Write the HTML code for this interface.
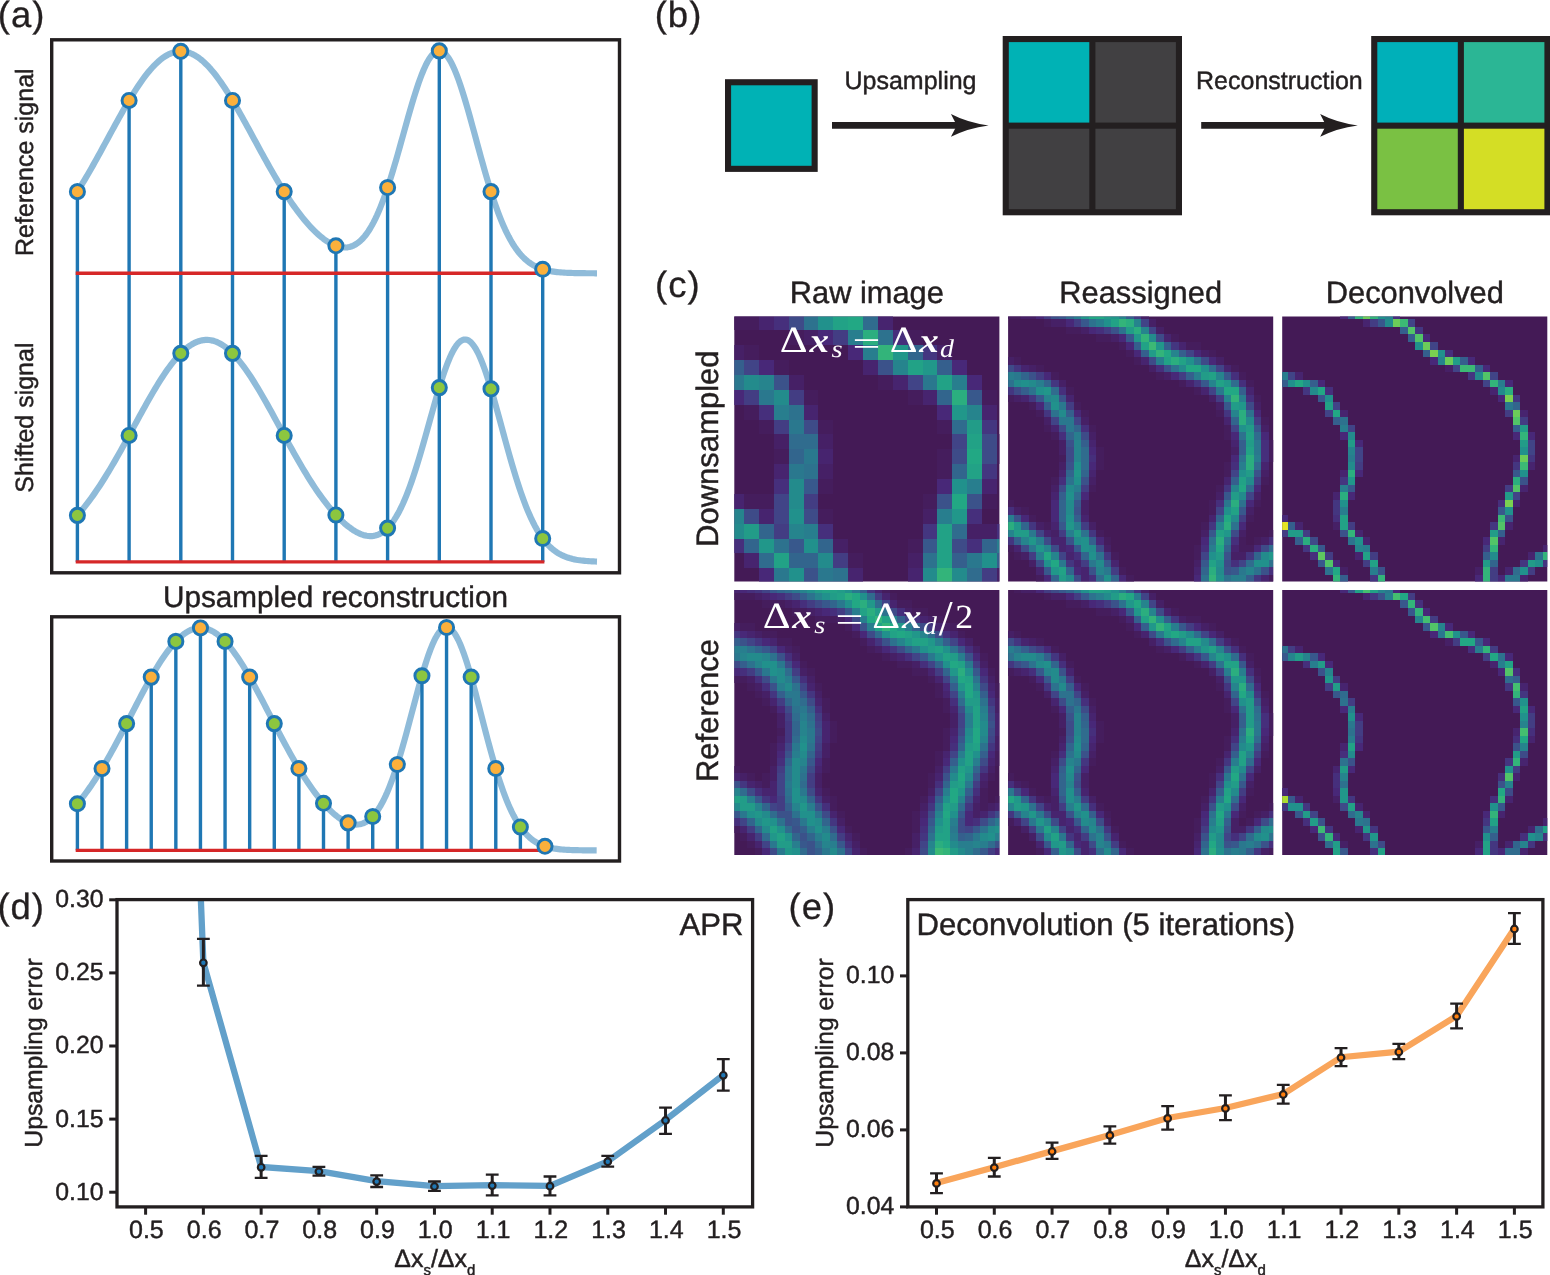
<!DOCTYPE html>
<html><head><meta charset="utf-8"><title>Figure</title>
<style>
html,body{margin:0;padding:0;background:#fff;}
body{width:1550px;height:1275px;overflow:hidden;}
svg{display:block;}
text{font-family:"Liberation Sans",Arial,Helvetica,sans-serif;stroke:#231f20;stroke-width:0.45px;text-rendering:geometricPrecision;}
</style></head><body>
<svg width="1550" height="1275" viewBox="0 0 1550 1275">
<rect width="1550" height="1275" fill="#fff"/>
<rect x="51.7" y="39.8" width="567.8" height="533.0" fill="none" stroke="#231f20" stroke-width="3.4"/>
<rect x="51.7" y="616.8" width="567.8" height="244.2" fill="none" stroke="#231f20" stroke-width="3.4"/>
<path d="M77.40,191.63 L79.13,188.87 L80.86,186.07 L82.60,183.22 L84.33,180.34 L86.06,177.41 L87.79,174.45 L89.52,171.46 L91.26,168.43 L92.99,165.37 L94.72,162.29 L96.45,159.18 L98.18,156.05 L99.92,152.91 L101.65,149.74 L103.38,146.57 L105.11,143.39 L106.84,140.20 L108.58,137.01 L110.31,133.82 L112.04,130.64 L113.77,127.47 L115.50,124.31 L117.23,121.17 L118.97,118.04 L120.70,114.95 L122.43,111.88 L124.16,108.84 L125.89,105.84 L127.63,102.89 L129.36,99.97 L131.09,97.11 L132.82,94.30 L134.55,91.55 L136.29,88.86 L138.02,86.23 L139.75,83.67 L141.48,81.19 L143.21,78.78 L144.95,76.45 L146.68,74.21 L148.41,72.05 L150.14,69.98 L151.87,68.01 L153.61,66.14 L155.34,64.36 L157.07,62.69 L158.80,61.12 L160.53,59.67 L162.27,58.32 L164.00,57.09 L165.73,55.97 L167.46,54.96 L169.19,54.08 L170.93,53.32 L172.66,52.67 L174.39,52.15 L176.12,51.75 L177.85,51.48 L179.59,51.33 L181.32,51.31 L183.05,51.40 L184.78,51.63 L186.51,51.98 L188.24,52.45 L189.98,53.04 L191.71,53.76 L193.44,54.59 L195.17,55.55 L196.90,56.62 L198.64,57.81 L200.37,59.11 L202.10,60.52 L203.83,62.05 L205.56,63.68 L207.30,65.41 L209.03,67.24 L210.76,69.18 L212.49,71.21 L214.22,73.33 L215.96,75.54 L217.69,77.83 L219.42,80.21 L221.15,82.66 L222.88,85.19 L224.62,87.79 L226.35,90.46 L228.08,93.18 L229.81,95.97 L231.54,98.81 L233.28,101.71 L235.01,104.65 L236.74,107.63 L238.47,110.65 L240.20,113.71 L241.94,116.79 L243.67,119.91 L245.40,123.04 L247.13,126.19 L248.86,129.36 L250.60,132.54 L252.33,135.73 L254.06,138.91 L255.79,142.10 L257.52,145.29 L259.25,148.47 L260.99,151.63 L262.72,154.79 L264.45,157.92 L266.18,161.04 L267.91,164.13 L269.65,167.20 L271.38,170.24 L273.11,173.24 L274.84,176.22 L276.57,179.15 L278.31,182.05 L280.04,184.91 L281.77,187.73 L283.50,190.50 L285.23,193.23 L286.97,195.90 L288.70,198.53 L290.43,201.11 L292.16,203.63 L293.89,206.10 L295.63,208.52 L297.36,210.88 L299.09,213.18 L300.82,215.43 L302.55,217.61 L304.29,219.73 L306.02,221.79 L307.75,223.79 L309.48,225.72 L311.21,227.58 L312.95,229.38 L314.68,231.11 L316.41,232.77 L318.14,234.35 L319.87,235.86 L321.60,237.30 L323.34,238.65 L325.07,239.93 L326.80,241.12 L328.53,242.22 L330.26,243.23 L332.00,244.14 L333.73,244.96 L335.46,245.67 L337.19,246.28 L338.92,246.76 L340.66,247.14 L342.39,247.38 L344.12,247.49 L345.85,247.47 L347.58,247.30 L349.32,246.98 L351.05,246.50 L352.78,245.85 L354.51,245.02 L356.24,244.02 L357.98,242.82 L359.71,241.43 L361.44,239.83 L363.17,238.01 L364.90,235.98 L366.64,233.73 L368.37,231.24 L370.10,228.52 L371.83,225.56 L373.56,222.35 L375.30,218.90 L377.03,215.21 L378.76,211.28 L380.49,207.10 L382.22,202.69 L383.96,198.05 L385.69,193.18 L387.42,188.11 L389.15,182.83 L390.88,177.37 L392.61,171.73 L394.35,165.95 L396.08,160.03 L397.81,154.00 L399.54,147.88 L401.27,141.70 L403.01,135.49 L404.74,129.27 L406.47,123.07 L408.20,116.93 L409.93,110.88 L411.67,104.95 L413.40,99.17 L415.13,93.58 L416.86,88.20 L418.59,83.08 L420.33,78.24 L422.06,73.71 L423.79,69.52 L425.52,65.70 L427.25,62.27 L428.99,59.26 L430.72,56.69 L432.45,54.57 L434.18,52.92 L435.91,51.75 L437.65,51.06 L439.38,50.87 L441.11,51.18 L442.84,51.98 L444.57,53.27 L446.31,55.03 L448.04,57.27 L449.77,59.96 L451.50,63.09 L453.23,66.64 L454.97,70.58 L456.70,74.89 L458.43,79.54 L460.16,84.51 L461.89,89.76 L463.62,95.26 L465.36,100.99 L467.09,106.90 L468.82,112.97 L470.55,119.17 L472.28,125.45 L474.02,131.80 L475.75,138.18 L477.48,144.57 L479.21,150.92 L480.94,157.22 L482.68,163.45 L484.41,169.57 L486.14,175.57 L487.87,181.43 L489.60,187.13 L491.34,192.66 L493.07,198.01 L494.80,203.15 L496.53,208.10 L498.26,212.82 L500.00,217.34 L501.73,221.63 L503.46,225.70 L505.19,229.55 L506.92,233.17 L508.66,236.58 L510.39,239.77 L512.12,242.76 L513.85,245.54 L515.58,248.13 L517.32,250.52 L519.05,252.73 L520.78,254.77 L522.51,256.65 L524.24,258.37 L525.98,259.94 L527.71,261.37 L529.44,262.68 L531.17,263.86 L532.90,264.93 L534.63,265.89 L536.37,266.76 L538.10,267.54 L539.83,268.24 L541.56,268.86 L543.29,269.42 L545.03,269.91 L546.76,270.35 L548.49,270.73 L550.22,271.07 L551.95,271.37 L553.69,271.64 L555.42,271.87 L557.15,272.07 L558.88,272.25 L560.61,272.40 L562.35,272.53 L564.08,272.64 L565.81,272.74 L567.54,272.83 L569.27,272.90 L571.01,272.96 L572.74,273.02 L574.47,273.06 L576.20,273.10 L577.93,273.13 L579.67,273.16 L581.40,273.18 L583.13,273.20 L584.86,273.22 L586.59,273.23 L588.33,273.25 L590.06,273.25 L591.79,273.26 L593.52,273.27 L595.25,273.28 L596.99,273.28" fill="none" stroke="#8fbbd9" stroke-width="6.2" stroke-linejoin="round"/>
<path d="M77.40,515.37 L79.13,513.39 L80.86,511.36 L82.60,509.27 L84.33,507.13 L86.06,504.93 L87.79,502.68 L89.52,500.37 L91.26,498.01 L92.99,495.59 L94.72,493.12 L96.45,490.60 L98.18,488.03 L99.92,485.41 L101.65,482.74 L103.38,480.03 L105.11,477.26 L106.84,474.46 L108.58,471.61 L110.31,468.72 L112.04,465.79 L113.77,462.83 L115.50,459.83 L117.23,456.80 L118.97,453.74 L120.70,450.66 L122.43,447.55 L124.16,444.42 L125.89,441.27 L127.63,438.11 L129.36,434.93 L131.09,431.75 L132.82,428.56 L134.55,425.37 L136.29,422.19 L138.02,419.00 L139.75,415.83 L141.48,412.67 L143.21,409.53 L144.95,406.41 L146.68,403.32 L148.41,400.25 L150.14,397.22 L151.87,394.22 L153.61,391.27 L155.34,388.36 L157.07,385.50 L158.80,382.69 L160.53,379.94 L162.27,377.26 L164.00,374.64 L165.73,372.08 L167.46,369.60 L169.19,367.20 L170.93,364.88 L172.66,362.64 L174.39,360.49 L176.12,358.43 L177.85,356.47 L179.59,354.60 L181.32,352.83 L183.05,351.17 L184.78,349.61 L186.51,348.16 L188.24,346.82 L189.98,345.60 L191.71,344.49 L193.44,343.49 L195.17,342.62 L196.90,341.86 L198.64,341.23 L200.37,340.72 L202.10,340.33 L203.83,340.06 L205.56,339.92 L207.30,339.91 L209.03,340.02 L210.76,340.25 L212.49,340.61 L214.22,341.09 L215.96,341.69 L217.69,342.42 L219.42,343.26 L221.15,344.22 L222.88,345.31 L224.62,346.50 L226.35,347.81 L228.08,349.23 L229.81,350.76 L231.54,352.40 L233.28,354.14 L235.01,355.98 L236.74,357.93 L238.47,359.96 L240.20,362.09 L241.94,364.30 L243.67,366.60 L245.40,368.99 L247.13,371.45 L248.86,373.98 L250.60,376.59 L252.33,379.26 L254.06,381.99 L255.79,384.78 L257.52,387.63 L259.25,390.53 L260.99,393.47 L262.72,396.45 L264.45,399.48 L266.18,402.54 L267.91,405.62 L269.65,408.74 L271.38,411.87 L273.11,415.03 L274.84,418.20 L276.57,421.38 L278.31,424.56 L280.04,427.75 L281.77,430.94 L283.50,434.13 L285.23,437.30 L286.97,440.47 L288.70,443.62 L290.43,446.75 L292.16,449.87 L293.89,452.96 L295.63,456.02 L297.36,459.06 L299.09,462.07 L300.82,465.04 L302.55,467.97 L304.29,470.87 L306.02,473.72 L307.75,476.54 L309.48,479.30 L311.21,482.03 L312.95,484.70 L314.68,487.33 L316.41,489.90 L318.14,492.42 L319.87,494.89 L321.60,497.30 L323.34,499.65 L325.07,501.95 L326.80,504.19 L328.53,506.37 L330.26,508.49 L332.00,510.54 L333.73,512.53 L335.46,514.46 L337.19,516.32 L338.92,518.11 L340.66,519.84 L342.39,521.49 L344.12,523.07 L345.85,524.57 L347.58,526.00 L349.32,527.35 L351.05,528.62 L352.78,529.80 L354.51,530.90 L356.24,531.90 L357.98,532.81 L359.71,533.62 L361.44,534.32 L363.17,534.92 L364.90,535.40 L366.64,535.76 L368.37,535.99 L370.10,536.10 L371.83,536.06 L373.56,535.88 L375.30,535.55 L377.03,535.05 L378.76,534.39 L380.49,533.55 L382.22,532.53 L383.96,531.32 L385.69,529.91 L387.42,528.30 L389.15,526.47 L390.88,524.42 L392.61,522.15 L394.35,519.65 L396.08,516.90 L397.81,513.92 L399.54,510.70 L401.27,507.24 L403.01,503.53 L404.74,499.57 L406.47,495.38 L408.20,490.95 L409.93,486.29 L411.67,481.41 L413.40,476.32 L415.13,471.03 L416.86,465.55 L418.59,459.91 L420.33,454.11 L422.06,448.18 L423.79,442.14 L425.52,436.02 L427.25,429.84 L428.99,423.62 L430.72,417.40 L432.45,411.21 L434.18,405.08 L435.91,399.03 L437.65,393.11 L439.38,387.35 L441.11,381.77 L442.84,376.41 L444.57,371.31 L446.31,366.49 L448.04,361.98 L449.77,357.82 L451.50,354.03 L453.23,350.63 L454.97,347.66 L456.70,345.12 L458.43,343.03 L460.16,341.41 L461.89,340.28 L463.62,339.63 L465.36,339.48 L467.09,339.82 L468.82,340.66 L470.55,341.98 L472.28,343.79 L474.02,346.06 L475.75,348.78 L477.48,351.94 L479.21,355.52 L480.94,359.49 L482.68,363.82 L484.41,368.50 L486.14,373.49 L487.87,378.76 L489.60,384.28 L491.34,390.02 L493.07,395.95 L494.80,402.03 L496.53,408.23 L498.26,414.53 L500.00,420.88 L501.73,427.26 L503.46,433.64 L505.19,439.99 L506.92,446.29 L508.66,452.51 L510.39,458.62 L512.12,464.61 L513.85,470.46 L515.58,476.15 L517.32,481.67 L519.05,487.00 L520.78,492.13 L522.51,497.06 L524.24,501.77 L525.98,506.26 L527.71,510.54 L529.44,514.59 L531.17,518.42 L532.90,522.03 L534.63,525.43 L536.37,528.60 L538.10,531.57 L539.83,534.34 L541.56,536.91 L543.29,539.29 L545.03,541.49 L546.76,543.52 L548.49,545.38 L550.22,547.09 L551.95,548.65 L553.69,550.07 L555.42,551.37 L557.15,552.54 L558.88,553.60 L560.61,554.56 L562.35,555.42 L564.08,556.19 L565.81,556.89 L567.54,557.50 L569.27,558.06 L571.01,558.54 L572.74,558.98 L574.47,559.36 L576.20,559.70 L577.93,560.00 L579.67,560.26 L581.40,560.48 L583.13,560.68 L584.86,560.86 L586.59,561.01 L588.33,561.14 L590.06,561.25 L591.79,561.35 L593.52,561.43 L595.25,561.51 L596.99,561.57" fill="none" stroke="#8fbbd9" stroke-width="6.2" stroke-linejoin="round"/>
<line x1="77.40" y1="191.63" x2="77.40" y2="561.90" stroke="#1f77b4" stroke-width="3.4"/>
<line x1="129.10" y1="100.41" x2="129.10" y2="561.90" stroke="#1f77b4" stroke-width="3.4"/>
<line x1="180.80" y1="51.30" x2="180.80" y2="561.90" stroke="#1f77b4" stroke-width="3.4"/>
<line x1="232.50" y1="100.41" x2="232.50" y2="561.90" stroke="#1f77b4" stroke-width="3.4"/>
<line x1="284.20" y1="191.60" x2="284.20" y2="561.90" stroke="#1f77b4" stroke-width="3.4"/>
<line x1="335.90" y1="245.84" x2="335.90" y2="561.90" stroke="#1f77b4" stroke-width="3.4"/>
<line x1="387.60" y1="187.56" x2="387.60" y2="561.90" stroke="#1f77b4" stroke-width="3.4"/>
<line x1="439.30" y1="50.87" x2="439.30" y2="561.90" stroke="#1f77b4" stroke-width="3.4"/>
<line x1="491.00" y1="191.60" x2="491.00" y2="561.90" stroke="#1f77b4" stroke-width="3.4"/>
<line x1="542.70" y1="269.23" x2="542.70" y2="561.90" stroke="#1f77b4" stroke-width="3.4"/>
<line x1="75.70" y1="273.3" x2="544.40" y2="273.3" stroke="#d62728" stroke-width="3.4"/>
<line x1="75.70" y1="561.9" x2="544.40" y2="561.9" stroke="#d62728" stroke-width="3.4"/>
<circle cx="77.40" cy="191.63" r="7.05" fill="#fbb03b" stroke="#1f77b4" stroke-width="2.95"/>
<circle cx="129.10" cy="100.41" r="7.05" fill="#fbb03b" stroke="#1f77b4" stroke-width="2.95"/>
<circle cx="180.80" cy="51.30" r="7.05" fill="#fbb03b" stroke="#1f77b4" stroke-width="2.95"/>
<circle cx="232.50" cy="100.41" r="7.05" fill="#fbb03b" stroke="#1f77b4" stroke-width="2.95"/>
<circle cx="284.20" cy="191.60" r="7.05" fill="#fbb03b" stroke="#1f77b4" stroke-width="2.95"/>
<circle cx="335.90" cy="245.84" r="7.05" fill="#fbb03b" stroke="#1f77b4" stroke-width="2.95"/>
<circle cx="387.60" cy="187.56" r="7.05" fill="#fbb03b" stroke="#1f77b4" stroke-width="2.95"/>
<circle cx="439.30" cy="50.87" r="7.05" fill="#fbb03b" stroke="#1f77b4" stroke-width="2.95"/>
<circle cx="491.00" cy="191.60" r="7.05" fill="#fbb03b" stroke="#1f77b4" stroke-width="2.95"/>
<circle cx="542.70" cy="269.23" r="7.05" fill="#fbb03b" stroke="#1f77b4" stroke-width="2.95"/>
<circle cx="77.40" cy="515.37" r="7.05" fill="#8cc63f" stroke="#1f77b4" stroke-width="2.95"/>
<circle cx="129.10" cy="435.41" r="7.05" fill="#8cc63f" stroke="#1f77b4" stroke-width="2.95"/>
<circle cx="180.80" cy="353.35" r="7.05" fill="#8cc63f" stroke="#1f77b4" stroke-width="2.95"/>
<circle cx="232.50" cy="353.35" r="7.05" fill="#8cc63f" stroke="#1f77b4" stroke-width="2.95"/>
<circle cx="284.20" cy="435.41" r="7.05" fill="#8cc63f" stroke="#1f77b4" stroke-width="2.95"/>
<circle cx="335.90" cy="514.94" r="7.05" fill="#8cc63f" stroke="#1f77b4" stroke-width="2.95"/>
<circle cx="387.60" cy="528.12" r="7.05" fill="#8cc63f" stroke="#1f77b4" stroke-width="2.95"/>
<circle cx="439.30" cy="387.60" r="7.05" fill="#8cc63f" stroke="#1f77b4" stroke-width="2.95"/>
<circle cx="491.00" cy="388.89" r="7.05" fill="#8cc63f" stroke="#1f77b4" stroke-width="2.95"/>
<circle cx="542.70" cy="538.50" r="7.05" fill="#8cc63f" stroke="#1f77b4" stroke-width="2.95"/>
<path d="M77.40,803.76 L79.13,801.68 L80.86,799.54 L82.59,797.33 L84.32,795.07 L86.05,792.74 L87.79,790.36 L89.52,787.91 L91.25,785.41 L92.98,782.84 L94.71,780.22 L96.44,777.54 L98.17,774.80 L99.90,772.01 L101.63,769.17 L103.36,766.28 L105.09,763.34 L106.83,760.35 L108.56,757.32 L110.29,754.24 L112.02,751.12 L113.75,747.97 L115.48,744.78 L117.21,741.56 L118.94,738.31 L120.67,735.03 L122.40,731.73 L124.13,728.41 L125.87,725.08 L127.60,721.74 L129.33,718.38 L131.06,715.03 L132.79,711.67 L134.52,708.32 L136.25,704.98 L137.98,701.66 L139.71,698.35 L141.44,695.06 L143.17,691.80 L144.91,688.57 L146.64,685.38 L148.37,682.23 L150.10,679.12 L151.83,676.07 L153.56,673.07 L155.29,670.13 L157.02,667.25 L158.75,664.45 L160.48,661.71 L162.21,659.06 L163.95,656.49 L165.68,654.00 L167.41,651.61 L169.14,649.31 L170.87,647.11 L172.60,645.02 L174.33,643.03 L176.06,641.15 L177.79,639.38 L179.52,637.73 L181.25,636.20 L182.99,634.79 L184.72,633.51 L186.45,632.36 L188.18,631.33 L189.91,630.44 L191.64,629.68 L193.37,629.05 L195.10,628.56 L196.83,628.20 L198.56,627.98 L200.29,627.90 L202.03,627.96 L203.76,628.15 L205.49,628.48 L207.22,628.95 L208.95,629.55 L210.68,630.29 L212.41,631.16 L214.14,632.16 L215.87,633.29 L217.60,634.55 L219.33,635.94 L221.06,637.45 L222.80,639.07 L224.53,640.82 L226.26,642.68 L227.99,644.65 L229.72,646.73 L231.45,648.91 L233.18,651.19 L234.91,653.56 L236.64,656.03 L238.37,658.59 L240.10,661.23 L241.84,663.95 L243.57,666.74 L245.30,669.60 L247.03,672.53 L248.76,675.52 L250.49,678.57 L252.22,681.66 L253.95,684.81 L255.68,687.99 L257.41,691.21 L259.14,694.47 L260.88,697.75 L262.61,701.06 L264.34,704.38 L266.07,707.72 L267.80,711.07 L269.53,714.42 L271.26,717.78 L272.99,721.13 L274.72,724.48 L276.45,727.81 L278.18,731.13 L279.92,734.43 L281.65,737.71 L283.38,740.97 L285.11,744.19 L286.84,747.39 L288.57,750.55 L290.30,753.67 L292.03,756.75 L293.76,759.79 L295.49,762.79 L297.22,765.73 L298.96,768.63 L300.69,771.47 L302.42,774.26 L304.15,777.00 L305.88,779.68 L307.61,782.30 L309.34,784.85 L311.07,787.35 L312.80,789.78 L314.53,792.15 L316.26,794.45 L318.00,796.69 L319.73,798.86 L321.46,800.95 L323.19,802.98 L324.92,804.93 L326.65,806.80 L328.38,808.60 L330.11,810.32 L331.84,811.96 L333.57,813.52 L335.30,814.99 L337.04,816.37 L338.77,817.66 L340.50,818.86 L342.23,819.95 L343.96,820.95 L345.69,821.83 L347.42,822.60 L349.15,823.25 L350.88,823.78 L352.61,824.17 L354.34,824.43 L356.08,824.54 L357.81,824.50 L359.54,824.29 L361.27,823.92 L363.00,823.37 L364.73,822.63 L366.46,821.70 L368.19,820.56 L369.92,819.20 L371.65,817.63 L373.38,815.82 L375.12,813.78 L376.85,811.48 L378.58,808.94 L380.31,806.13 L382.04,803.07 L383.77,799.73 L385.50,796.13 L387.23,792.26 L388.96,788.11 L390.69,783.71 L392.42,779.04 L394.16,774.12 L395.89,768.96 L397.62,763.56 L399.35,757.95 L401.08,752.14 L402.81,746.14 L404.54,739.99 L406.27,733.70 L408.00,727.30 L409.73,720.82 L411.46,714.29 L413.20,707.75 L414.93,701.22 L416.66,694.75 L418.39,688.36 L420.12,682.11 L421.85,676.02 L423.58,670.14 L425.31,664.49 L427.04,659.13 L428.77,654.08 L430.50,649.39 L432.24,645.08 L433.97,641.18 L435.70,637.72 L437.43,634.74 L439.16,632.24 L440.89,630.25 L442.62,628.79 L444.35,627.86 L446.08,627.48 L447.81,627.64 L449.54,628.35 L451.28,629.60 L453.01,631.39 L454.74,633.69 L456.47,636.50 L458.20,639.79 L459.93,643.53 L461.66,647.72 L463.39,652.31 L465.12,657.27 L466.85,662.57 L468.58,668.17 L470.32,674.05 L472.05,680.15 L473.78,686.45 L475.51,692.91 L477.24,699.48 L478.97,706.14 L480.70,712.85 L482.43,719.56 L484.16,726.26 L485.89,732.90 L487.62,739.47 L489.35,745.92 L491.09,752.24 L492.82,758.41 L494.55,764.40 L496.28,770.20 L498.01,775.80 L499.74,781.17 L501.47,786.32 L503.20,791.23 L504.93,795.90 L506.66,800.32 L508.39,804.50 L510.13,808.44 L511.86,812.13 L513.59,815.58 L515.32,818.80 L517.05,821.79 L518.78,824.57 L520.51,827.13 L522.24,829.49 L523.97,831.66 L525.70,833.64 L527.43,835.45 L529.17,837.10 L530.90,838.60 L532.63,839.95 L534.36,841.17 L536.09,842.27 L537.82,843.25 L539.55,844.14 L541.28,844.92 L543.01,845.62 L544.74,846.24 L546.47,846.79 L548.21,847.27 L549.94,847.70 L551.67,848.07 L553.40,848.40 L555.13,848.69 L556.86,848.93 L558.59,849.15 L560.32,849.34 L562.05,849.50 L563.78,849.63 L565.51,849.75 L567.25,849.86 L568.98,849.94 L570.71,850.02 L572.44,850.08 L574.17,850.13 L575.90,850.18 L577.63,850.21 L579.36,850.25 L581.09,850.27 L582.82,850.30 L584.55,850.31 L586.29,850.33 L588.02,850.34 L589.75,850.35 L591.48,850.36 L593.21,850.37 L594.94,850.37 L596.67,850.38" fill="none" stroke="#8fbbd9" stroke-width="6.2" stroke-linejoin="round"/>
<line x1="77.40" y1="803.76" x2="77.40" y2="850.40" stroke="#1f77b4" stroke-width="3.4"/>
<line x1="102.01" y1="768.55" x2="102.01" y2="850.40" stroke="#1f77b4" stroke-width="3.4"/>
<line x1="126.62" y1="723.62" x2="126.62" y2="850.40" stroke="#1f77b4" stroke-width="3.4"/>
<line x1="151.23" y1="677.12" x2="151.23" y2="850.40" stroke="#1f77b4" stroke-width="3.4"/>
<line x1="175.84" y1="641.38" x2="175.84" y2="850.40" stroke="#1f77b4" stroke-width="3.4"/>
<line x1="200.45" y1="627.90" x2="200.45" y2="850.40" stroke="#1f77b4" stroke-width="3.4"/>
<line x1="225.06" y1="641.38" x2="225.06" y2="850.40" stroke="#1f77b4" stroke-width="3.4"/>
<line x1="249.67" y1="677.12" x2="249.67" y2="850.40" stroke="#1f77b4" stroke-width="3.4"/>
<line x1="274.28" y1="723.62" x2="274.28" y2="850.40" stroke="#1f77b4" stroke-width="3.4"/>
<line x1="298.89" y1="768.52" x2="298.89" y2="850.40" stroke="#1f77b4" stroke-width="3.4"/>
<line x1="323.50" y1="803.33" x2="323.50" y2="850.40" stroke="#1f77b4" stroke-width="3.4"/>
<line x1="348.11" y1="822.87" x2="348.11" y2="850.40" stroke="#1f77b4" stroke-width="3.4"/>
<line x1="372.72" y1="816.54" x2="372.72" y2="850.40" stroke="#1f77b4" stroke-width="3.4"/>
<line x1="397.33" y1="764.47" x2="397.33" y2="850.40" stroke="#1f77b4" stroke-width="3.4"/>
<line x1="421.94" y1="675.71" x2="421.94" y2="850.40" stroke="#1f77b4" stroke-width="3.4"/>
<line x1="446.55" y1="627.47" x2="446.55" y2="850.40" stroke="#1f77b4" stroke-width="3.4"/>
<line x1="471.16" y1="677.00" x2="471.16" y2="850.40" stroke="#1f77b4" stroke-width="3.4"/>
<line x1="495.77" y1="768.52" x2="495.77" y2="850.40" stroke="#1f77b4" stroke-width="3.4"/>
<line x1="520.38" y1="826.94" x2="520.38" y2="850.40" stroke="#1f77b4" stroke-width="3.4"/>
<line x1="544.99" y1="846.32" x2="544.99" y2="850.40" stroke="#1f77b4" stroke-width="3.4"/>
<line x1="75.70" y1="850.4" x2="546.69" y2="850.4" stroke="#d62728" stroke-width="3.4"/>
<circle cx="77.40" cy="803.76" r="7.05" fill="#8cc63f" stroke="#1f77b4" stroke-width="2.95"/>
<circle cx="102.01" cy="768.55" r="7.05" fill="#fbb03b" stroke="#1f77b4" stroke-width="2.95"/>
<circle cx="126.62" cy="723.62" r="7.05" fill="#8cc63f" stroke="#1f77b4" stroke-width="2.95"/>
<circle cx="151.23" cy="677.12" r="7.05" fill="#fbb03b" stroke="#1f77b4" stroke-width="2.95"/>
<circle cx="175.84" cy="641.38" r="7.05" fill="#8cc63f" stroke="#1f77b4" stroke-width="2.95"/>
<circle cx="200.45" cy="627.90" r="7.05" fill="#fbb03b" stroke="#1f77b4" stroke-width="2.95"/>
<circle cx="225.06" cy="641.38" r="7.05" fill="#8cc63f" stroke="#1f77b4" stroke-width="2.95"/>
<circle cx="249.67" cy="677.12" r="7.05" fill="#fbb03b" stroke="#1f77b4" stroke-width="2.95"/>
<circle cx="274.28" cy="723.62" r="7.05" fill="#8cc63f" stroke="#1f77b4" stroke-width="2.95"/>
<circle cx="298.89" cy="768.52" r="7.05" fill="#fbb03b" stroke="#1f77b4" stroke-width="2.95"/>
<circle cx="323.50" cy="803.33" r="7.05" fill="#8cc63f" stroke="#1f77b4" stroke-width="2.95"/>
<circle cx="348.11" cy="822.87" r="7.05" fill="#fbb03b" stroke="#1f77b4" stroke-width="2.95"/>
<circle cx="372.72" cy="816.54" r="7.05" fill="#8cc63f" stroke="#1f77b4" stroke-width="2.95"/>
<circle cx="397.33" cy="764.47" r="7.05" fill="#fbb03b" stroke="#1f77b4" stroke-width="2.95"/>
<circle cx="421.94" cy="675.71" r="7.05" fill="#8cc63f" stroke="#1f77b4" stroke-width="2.95"/>
<circle cx="446.55" cy="627.47" r="7.05" fill="#fbb03b" stroke="#1f77b4" stroke-width="2.95"/>
<circle cx="471.16" cy="677.00" r="7.05" fill="#8cc63f" stroke="#1f77b4" stroke-width="2.95"/>
<circle cx="495.77" cy="768.52" r="7.05" fill="#fbb03b" stroke="#1f77b4" stroke-width="2.95"/>
<circle cx="520.38" cy="826.94" r="7.05" fill="#8cc63f" stroke="#1f77b4" stroke-width="2.95"/>
<circle cx="544.99" cy="846.32" r="7.05" fill="#fbb03b" stroke="#1f77b4" stroke-width="2.95"/>
<text x="-2.2" y="27.2" font-size="36.5" letter-spacing="1" style="stroke-width:0.3px" fill="#231f20">(a)</text>
<text transform="translate(32.7,162.2) rotate(-90)" text-anchor="middle" font-size="25.0" fill="#231f20">Reference signal</text>
<text transform="translate(32.7,417.6) rotate(-90)" text-anchor="middle" font-size="25.0" fill="#231f20">Shifted signal</text>
<text x="335.5" y="606.7" text-anchor="middle" font-size="29.7" fill="#231f20">Upsampled reconstruction</text>
<rect x="725.00" y="79.20" width="92.70" height="92.70" fill="#231f20"/>
<rect x="731.10" y="85.30" width="80.50" height="80.50" fill="#00b2b5"/>
<rect x="1002.70" y="36.00" width="179.30" height="179.30" fill="#231f20"/>
<rect x="1008.80" y="42.10" width="80.50" height="80.50" fill="#00b2b5"/>
<rect x="1095.40" y="42.10" width="80.50" height="80.50" fill="#414042"/>
<rect x="1008.80" y="128.70" width="80.50" height="80.50" fill="#414042"/>
<rect x="1095.40" y="128.70" width="80.50" height="80.50" fill="#414042"/>
<rect x="1371.20" y="36.00" width="179.30" height="179.30" fill="#231f20"/>
<rect x="1377.30" y="42.10" width="80.50" height="80.50" fill="#00b0b9"/>
<rect x="1463.90" y="42.10" width="80.50" height="80.50" fill="#2bb695"/>
<rect x="1377.30" y="128.70" width="80.50" height="80.50" fill="#7ac143"/>
<rect x="1463.90" y="128.70" width="80.50" height="80.50" fill="#d4de25"/>
<line x1="832.0" y1="125.45" x2="958.6" y2="125.45" stroke="#231f20" stroke-width="6.8"/>
<path d="M988.6,125.45 Q967.6,122.75 950.95,114.05 L956.8000000000001,125.45 L950.95,136.85 Q967.6,128.15 988.6,125.45 Z" fill="#231f20"/>
<line x1="1201.2" y1="125.45" x2="1327.8" y2="125.45" stroke="#231f20" stroke-width="6.8"/>
<path d="M1357.8,125.45 Q1336.8,122.75 1320.1499999999999,114.05 L1326.0,125.45 L1320.1499999999999,136.85 Q1336.8,128.15 1357.8,125.45 Z" fill="#231f20"/>
<text x="654.7" y="27.1" font-size="36.5" letter-spacing="1" style="stroke-width:0.3px" fill="#231f20">(b)</text>
<text x="910.5" y="89.1" text-anchor="middle" font-size="25" fill="#231f20">Upsampling</text>
<text x="1279.4" y="89.1" text-anchor="middle" font-size="25" fill="#231f20">Reconstruction</text>
<clipPath id="hc00"><rect x="734.3" y="316.5" width="265.1" height="265.1"/></clipPath>
<g clip-path="url(#hc00)">
<rect x="732.3" y="314.5" width="269.1" height="269.1" fill="#441a56"/>
<g transform="translate(734.3,316.5)" shape-rendering="crispEdges">
<path fill="#451d5d" d="M-1 -0.97h25.67v14.87h-25.67zM54.41 13.9h14.87v14.87h-14.87zM173.37 13.9h14.87v14.87h-14.87zM9.8 28.77h14.87v14.87h-14.87zM39.54 43.64h14.87v14.87h-14.87zM143.63 58.51h14.87v14.87h-14.87zM69.28 73.38h14.87v14.87h-14.87zM173.37 73.38h14.87v14.87h-14.87zM247.72 73.38h14.87v14.87h-14.87zM9.8 88.25h14.87v14.87h-14.87zM24.67 103.12h14.87v14.87h-14.87zM84.15 103.12h14.87v14.87h-14.87zM203.11 103.12h14.87v14.87h-14.87zM262.59 117.99h4.41v14.87h-4.41zM39.54 132.86h14.87v14.87h-14.87zM203.11 132.86h14.87v14.87h-14.87zM262.59 132.86h4.41v14.87h-4.41zM203.11 147.73h14.87v14.87h-14.87zM84.15 162.6h14.87v14.87h-14.87zM9.8 177.47h29.74v14.87h-29.74zM188.24 177.47h14.87v14.87h-14.87zM247.72 177.47h14.87v14.87h-14.87zM84.15 192.34h14.87v14.87h-14.87zM173.37 222.08h14.87v14.87h-14.87zM113.89 236.95h14.87v14.87h-14.87zM128.76 266.69h14.87v0.31h-14.87zM247.72 266.69h14.87v0.31h-14.87z"/>
<path fill="#462066" d="M69.28 13.9h14.87v14.87h-14.87zM-1 28.77h10.8v14.87h-10.8zM203.11 28.77h14.87v14.87h-14.87zM54.41 58.51h14.87v14.87h-14.87zM39.54 117.99h14.87v14.87h-14.87zM84.15 117.99h14.87v14.87h-14.87zM84.15 147.73h14.87v14.87h-14.87zM188.24 192.34h14.87v14.87h-14.87zM232.85 207.21h29.74v14.87h-29.74zM99.02 222.08h14.87v14.87h-14.87zM173.37 236.95h14.87v14.87h-14.87zM262.59 251.82h4.41v14.87h-4.41z"/>
<path fill="#47246f" d="M24.67 -0.97h14.87v14.87h-14.87zM143.63 -0.97h14.87v14.87h-14.87zM128.76 43.64h14.87v14.87h-14.87zM158.5 58.51h14.87v14.87h-14.87zM188.24 73.38h14.87v14.87h-14.87zM69.28 88.25h14.87v14.87h-14.87zM247.72 88.25h14.87v14.87h-14.87zM84.15 132.86h14.87v14.87h-14.87zM39.54 147.73h14.87v14.87h-14.87zM247.72 162.6h14.87v14.87h-14.87zM-1 177.47h10.8v14.87h-10.8zM24.67 192.34h14.87v14.87h-14.87zM9.8 236.95h14.87v14.87h-14.87zM113.89 251.82h14.87v14.87h-14.87zM173.37 251.82h14.87v14.87h-14.87zM232.85 266.69h14.87v0.31h-14.87z"/>
<path fill="#482878" d="M84.15 13.9h14.87v14.87h-14.87zM113.89 28.77h14.87v14.87h-14.87zM24.67 43.64h14.87v14.87h-14.87zM217.98 43.64h14.87v14.87h-14.87zM232.85 58.51h14.87v14.87h-14.87zM-1 73.38h10.8v14.87h-10.8zM203.11 88.25h14.87v14.87h-14.87zM203.11 162.6h14.87v14.87h-14.87zM24.67 251.82h14.87v14.87h-14.87zM173.37 266.69h14.87v0.31h-14.87z"/>
<path fill="#462f7c" d="M39.54 -0.97h14.87v14.87h-14.87zM158.5 13.9h14.87v14.87h-14.87zM24.67 88.25h14.87v14.87h-14.87zM39.54 162.6h14.87v14.87h-14.87zM232.85 192.34h14.87v14.87h-14.87zM84.15 207.21h14.87v14.87h-14.87zM262.59 207.21h4.41v14.87h-4.41zM-1 222.08h10.8v14.87h-10.8zM232.85 222.08h14.87v14.87h-14.87zM39.54 266.69h14.87v0.31h-14.87z"/>
<path fill="#443680" d="M188.24 28.77h14.87v14.87h-14.87zM247.72 103.12h14.87v14.87h-14.87zM247.72 147.73h14.87v14.87h-14.87zM188.24 207.21h14.87v14.87h-14.87z"/>
<path fill="#433d83" d="M99.02 13.9h14.87v14.87h-14.87zM9.8 73.38h14.87v14.87h-14.87zM54.41 73.38h14.87v14.87h-14.87zM39.54 103.12h14.87v14.87h-14.87zM69.28 177.47h14.87v14.87h-14.87zM39.54 207.21h14.87v14.87h-14.87zM99.02 236.95h14.87v14.87h-14.87zM247.72 251.82h14.87v14.87h-14.87z"/>
<path fill="#414487" d="M9.8 43.64h14.87v14.87h-14.87zM173.37 58.51h14.87v14.87h-14.87zM217.98 117.99h14.87v14.87h-14.87zM39.54 177.47h14.87v14.87h-14.87zM39.54 192.34h14.87v14.87h-14.87z"/>
<path fill="#3e4b88" d="M54.41 -0.97h14.87v14.87h-14.87zM69.28 103.12h14.87v14.87h-14.87zM247.72 117.99h14.87v14.87h-14.87zM217.98 132.86h14.87v14.87h-14.87zM247.72 132.86h14.87v14.87h-14.87zM9.8 192.34h14.87v14.87h-14.87zM69.28 192.34h14.87v14.87h-14.87zM217.98 222.08h14.87v14.87h-14.87zM113.89 266.69h14.87v0.31h-14.87z"/>
<path fill="#3b528a" d="M143.63 43.64h14.87v14.87h-14.87zM39.54 58.51h14.87v14.87h-14.87zM203.11 177.47h14.87v14.87h-14.87zM232.85 177.47h14.87v14.87h-14.87zM69.28 251.82h14.87v14.87h-14.87z"/>
<path fill="#38588c" d="M232.85 73.38h14.87v14.87h-14.87zM69.28 162.6h14.87v14.87h-14.87zM54.41 222.08h14.87v14.87h-14.87zM188.24 222.08h14.87v14.87h-14.87zM217.98 266.69h14.87v0.31h-14.87z"/>
<path fill="#355f8d" d="M-1 43.64h10.8v14.87h-10.8zM203.11 43.64h14.87v14.87h-14.87zM217.98 236.95h14.87v14.87h-14.87zM262.59 236.95h4.41v14.87h-4.41zM84.15 266.69h14.87v0.31h-14.87z"/>
<path fill="#32658d" d="M173.37 28.77h14.87v14.87h-14.87zM203.11 73.38h14.87v14.87h-14.87zM54.41 132.86h14.87v14.87h-14.87zM217.98 147.73h14.87v14.87h-14.87zM24.67 207.21h14.87v14.87h-14.87zM9.8 222.08h14.87v14.87h-14.87zM84.15 222.08h14.87v14.87h-14.87zM247.72 222.08h14.87v14.87h-14.87zM54.41 236.95h29.74v14.87h-29.74z"/>
<path fill="#306c8e" d="M128.76 -0.97h14.87v14.87h-14.87zM217.98 103.12h14.87v14.87h-14.87zM54.41 117.99h29.74v14.87h-29.74zM217.98 207.21h14.87v14.87h-14.87zM24.67 236.95h14.87v14.87h-14.87zM232.85 251.82h14.87v14.87h-14.87zM54.41 266.69h29.74v0.31h-29.74z"/>
<path fill="#2d728e" d="M69.28 -0.97h14.87v14.87h-14.87zM143.63 13.9h14.87v14.87h-14.87zM54.41 88.25h14.87v14.87h-14.87zM69.28 147.73h14.87v14.87h-14.87zM39.54 222.08h14.87v14.87h-14.87zM188.24 236.95h14.87v14.87h-14.87zM99.02 251.82h14.87v14.87h-14.87z"/>
<path fill="#2a788e" d="M-1 58.51h10.8v14.87h-10.8zM188.24 58.51h14.87v14.87h-14.87zM24.67 73.38h14.87v14.87h-14.87zM54.41 103.12h14.87v14.87h-14.87zM69.28 132.86h14.87v14.87h-14.87zM54.41 147.73h14.87v14.87h-14.87zM232.85 236.95h14.87v14.87h-14.87zM39.54 251.82h14.87v14.87h-14.87zM84.15 251.82h14.87v14.87h-14.87z"/>
<path fill="#287e8e" d="M113.89 13.9h14.87v14.87h-14.87zM128.76 28.77h14.87v14.87h-14.87zM217.98 58.51h14.87v14.87h-14.87zM39.54 88.25h14.87v14.87h-14.87zM232.85 162.6h14.87v14.87h-14.87zM203.11 192.34h14.87v14.87h-14.87zM69.28 207.21h14.87v14.87h-14.87zM262.59 222.08h4.41v14.87h-4.41z"/>
<path fill="#26848d" d="M158.5 43.64h14.87v14.87h-14.87zM24.67 58.51h14.87v14.87h-14.87zM232.85 88.25h14.87v14.87h-14.87zM-1 192.34h10.8v14.87h-10.8zM54.41 207.21h14.87v14.87h-14.87zM99.02 266.69h14.87v0.31h-14.87z"/>
<path fill="#238b8c" d="M9.8 58.51h14.87v14.87h-14.87zM39.54 73.38h14.87v14.87h-14.87zM54.41 162.6h14.87v14.87h-14.87zM54.41 177.47h14.87v14.87h-14.87zM-1 207.21h10.8v14.87h-10.8zM84.15 236.95h14.87v14.87h-14.87zM188.24 251.82h14.87v14.87h-14.87zM217.98 251.82h14.87v14.87h-14.87z"/>
<path fill="#21918c" d="M84.15 -0.97h14.87v14.87h-14.87zM217.98 162.6h14.87v14.87h-14.87zM54.41 192.34h14.87v14.87h-14.87zM69.28 222.08h14.87v14.87h-14.87zM247.72 236.95h14.87v14.87h-14.87zM54.41 251.82h14.87v14.87h-14.87z"/>
<path fill="#21978a" d="M158.5 28.77h14.87v14.87h-14.87zM188.24 43.64h14.87v14.87h-14.87zM217.98 88.25h14.87v14.87h-14.87zM217.98 192.34h14.87v14.87h-14.87zM24.67 222.08h14.87v14.87h-14.87zM188.24 266.69h29.74v0.31h-29.74z"/>
<path fill="#229c88" d="M232.85 103.12h14.87v14.87h-14.87zM9.8 207.21h14.87v14.87h-14.87z"/>
<path fill="#22a286" d="M99.02 -0.97h14.87v14.87h-14.87zM173.37 43.64h14.87v14.87h-14.87zM203.11 58.51h14.87v14.87h-14.87zM232.85 117.99h14.87v14.87h-14.87zM232.85 147.73h14.87v14.87h-14.87zM203.11 207.21h14.87v14.87h-14.87zM203.11 222.08h14.87v14.87h-14.87zM39.54 236.95h14.87v14.87h-14.87zM203.11 236.95h14.87v14.87h-14.87z"/>
<path fill="#22a884" d="M113.89 -0.97h14.87v14.87h-14.87zM232.85 132.86h14.87v14.87h-14.87zM217.98 177.47h14.87v14.87h-14.87z"/>
<path fill="#2bae7f" d="M128.76 13.9h14.87v14.87h-14.87zM217.98 73.38h14.87v14.87h-14.87z"/>
<path fill="#33b47a" d="M143.63 28.77h14.87v14.87h-14.87zM203.11 251.82h14.87v14.87h-14.87z"/>
</g>
</g>
<clipPath id="hc01"><rect x="1008.1" y="316.5" width="265.1" height="265.1"/></clipPath>
<g clip-path="url(#hc01)">
<rect x="1006.1" y="314.5" width="269.1" height="269.1" fill="#441a56"/>
<g transform="translate(1008.1,316.5)" shape-rendering="crispEdges">
<path fill="#451d5d" d="M-1 -1h13.97v3.97h-13.97zM35.5 2.97h7.51v7.51h-7.51zM58.03 10.48h15.02v7.51h-15.02zM88.07 17.99h15.02v7.51h-15.02zM163.17 17.99h7.51v7.51h-7.51zM110.6 25.5h7.51v7.51h-7.51zM178.19 25.5h15.02v7.51h-15.02zM118.11 33.01h7.51v7.51h-7.51zM200.72 33.01h7.51v7.51h-7.51zM5.46 40.52h7.51v7.51h-7.51zM125.62 40.52h7.51v7.51h-7.51zM27.99 48.03h7.51v7.51h-7.51zM223.25 48.03h7.51v7.51h-7.51zM43.01 55.54h7.51v7.51h-7.51zM148.15 55.54h7.51v7.51h-7.51zM230.76 55.54h7.51v7.51h-7.51zM170.68 63.05h7.51v7.51h-7.51zM238.27 63.05h7.51v7.51h-7.51zM58.03 70.56h7.51v7.51h-7.51zM185.7 70.56h7.51v7.51h-7.51zM-1 78.07h6.46v7.51h-6.46zM245.78 78.07h7.51v7.51h-7.51zM20.48 85.58h7.51v7.51h-7.51zM65.54 85.58h7.51v7.51h-7.51zM27.99 93.09h7.51v7.51h-7.51zM73.05 93.09h7.51v7.51h-7.51zM208.23 93.09h7.51v7.51h-7.51zM253.29 100.6h7.51v7.51h-7.51zM35.5 108.11h7.51v7.51h-7.51zM80.56 108.11h7.51v7.51h-7.51zM215.74 108.11h7.51v7.51h-7.51zM43.01 115.62h7.51v7.51h-7.51zM215.74 115.62h7.51v7.51h-7.51zM260.8 123.13h6.2v7.51h-6.2zM88.07 130.64h7.51v7.51h-7.51zM260.8 130.64h6.2v7.51h-6.2zM50.52 138.15h7.51v7.51h-7.51zM88.07 138.15h7.51v7.51h-7.51zM260.8 138.15h6.2v7.51h-6.2zM88.07 145.66h7.51v7.51h-7.51zM215.74 145.66h7.51v7.51h-7.51zM215.74 153.17h7.51v7.51h-7.51zM43.01 160.68h7.51v7.51h-7.51zM253.29 160.68h7.51v7.51h-7.51zM80.56 168.19h7.51v7.51h-7.51zM208.23 168.19h7.51v7.51h-7.51zM-1 183.21h6.46v7.51h-6.46zM200.72 183.21h7.51v7.51h-7.51zM245.78 183.21h7.51v7.51h-7.51zM12.97 190.72h7.51v7.51h-7.51zM200.72 190.72h7.51v7.51h-7.51zM20.48 198.23h7.51v7.51h-7.51zM238.27 198.23h7.51v7.51h-7.51zM35.5 205.74h7.51v7.51h-7.51zM193.21 205.74h7.51v7.51h-7.51zM88.07 213.25h7.51v7.51h-7.51zM260.8 213.25h6.2v7.51h-6.2zM95.58 220.76h7.51v7.51h-7.51zM230.76 220.76h7.51v7.51h-7.51zM245.78 220.76h7.51v7.51h-7.51zM-1 228.27h6.46v7.51h-6.46zM185.7 228.27h7.51v7.51h-7.51zM230.76 228.27h15.02v7.51h-15.02zM5.46 235.78h7.51v7.51h-7.51zM103.09 235.78h7.51v7.51h-7.51zM185.7 235.78h7.51v7.51h-7.51zM110.6 250.8h7.51v7.51h-7.51zM27.99 258.31h7.51v7.51h-7.51zM118.11 258.31h7.51v7.51h-7.51zM260.8 258.31h6.2v7.51h-6.2z"/>
<path fill="#462066" d="M12.97 -1h15.02v3.97h-15.02zM133.13 -1h7.51v3.97h-7.51zM43.01 2.97h15.02v7.51h-15.02zM140.64 2.97h7.51v7.51h-7.51zM73.05 10.48h7.51v7.51h-7.51zM148.15 10.48h7.51v7.51h-7.51zM103.09 17.99h7.51v7.51h-7.51zM193.21 33.01h7.51v7.51h-7.51zM-1 40.52h6.46v7.51h-6.46zM208.23 40.52h7.51v7.51h-7.51zM20.48 48.03h7.51v7.51h-7.51zM140.64 48.03h7.51v7.51h-7.51zM155.66 55.54h7.51v7.51h-7.51zM50.52 63.05h7.51v7.51h-7.51zM5.46 78.07h7.51v7.51h-7.51zM200.72 78.07h7.51v7.51h-7.51zM208.23 85.58h7.51v7.51h-7.51zM245.78 85.58h7.51v7.51h-7.51zM35.5 100.6h7.51v7.51h-7.51zM73.05 100.6h7.51v7.51h-7.51zM253.29 108.11h7.51v7.51h-7.51zM80.56 115.62h7.51v7.51h-7.51zM50.52 123.13h7.51v7.51h-7.51zM50.52 130.64h7.51v7.51h-7.51zM223.25 130.64h7.51v7.51h-7.51zM50.52 145.66h7.51v7.51h-7.51zM253.29 153.17h7.51v7.51h-7.51zM80.56 160.68h7.51v7.51h-7.51zM43.01 168.19h7.51v7.51h-7.51zM208.23 175.7h7.51v7.51h-7.51zM245.78 175.7h7.51v7.51h-7.51zM73.05 183.21h7.51v7.51h-7.51zM5.46 190.72h7.51v7.51h-7.51zM73.05 190.72h7.51v7.51h-7.51zM238.27 190.72h7.51v7.51h-7.51zM27.99 205.74h7.51v7.51h-7.51zM80.56 205.74h7.51v7.51h-7.51zM43.01 213.25h7.51v7.51h-7.51zM193.21 213.25h7.51v7.51h-7.51zM230.76 213.25h7.51v7.51h-7.51zM253.29 220.76h7.51v7.51h-7.51zM95.58 228.27h7.51v7.51h-7.51zM12.97 235.78h7.51v7.51h-7.51zM223.25 235.78h15.02v7.51h-15.02zM20.48 243.29h7.51v7.51h-7.51zM185.7 243.29h7.51v7.51h-7.51z"/>
<path fill="#47246f" d="M155.66 17.99h7.51v7.51h-7.51zM170.68 25.5h7.51v7.51h-7.51zM133.13 40.52h7.51v7.51h-7.51zM12.97 48.03h7.51v7.51h-7.51zM215.74 48.03h7.51v7.51h-7.51zM178.19 63.05h7.51v7.51h-7.51zM193.21 70.56h7.51v7.51h-7.51zM238.27 70.56h7.51v7.51h-7.51zM12.97 78.07h7.51v7.51h-7.51zM58.03 78.07h7.51v7.51h-7.51zM215.74 100.6h7.51v7.51h-7.51zM43.01 108.11h7.51v7.51h-7.51zM80.56 123.13h7.51v7.51h-7.51zM223.25 123.13h7.51v7.51h-7.51zM253.29 145.66h7.51v7.51h-7.51zM50.52 153.17h7.51v7.51h-7.51zM80.56 153.17h7.51v7.51h-7.51zM215.74 160.68h7.51v7.51h-7.51zM43.01 175.7h7.51v7.51h-7.51zM73.05 198.23h7.51v7.51h-7.51zM200.72 198.23h7.51v7.51h-7.51zM43.01 205.74h7.51v7.51h-7.51zM35.5 213.25h7.51v7.51h-7.51zM43.01 220.76h15.02v7.51h-15.02zM5.46 228.27h7.51v7.51h-7.51zM50.52 228.27h7.51v7.51h-7.51zM223.25 228.27h7.51v7.51h-7.51zM58.03 235.78h7.51v7.51h-7.51zM65.54 243.29h7.51v7.51h-7.51zM103.09 243.29h7.51v7.51h-7.51zM27.99 250.8h7.51v7.51h-7.51zM73.05 250.8h7.51v7.51h-7.51zM185.7 250.8h7.51v7.51h-7.51zM73.05 258.31h7.51v7.51h-7.51zM253.29 258.31h7.51v7.51h-7.51z"/>
<path fill="#482878" d="M27.99 -1h7.51v3.97h-7.51zM58.03 2.97h7.51v7.51h-7.51zM80.56 10.48h7.51v7.51h-7.51zM110.6 17.99h7.51v7.51h-7.51zM118.11 25.5h7.51v7.51h-7.51zM125.62 33.01h7.51v7.51h-7.51zM185.7 33.01h7.51v7.51h-7.51zM200.72 40.52h7.51v7.51h-7.51zM35.5 55.54h7.51v7.51h-7.51zM163.17 55.54h7.51v7.51h-7.51zM27.99 85.58h7.51v7.51h-7.51zM65.54 93.09h7.51v7.51h-7.51zM245.78 93.09h7.51v7.51h-7.51zM223.25 115.62h7.51v7.51h-7.51zM253.29 115.62h7.51v7.51h-7.51zM80.56 130.64h7.51v7.51h-7.51zM223.25 138.15h7.51v7.51h-7.51zM80.56 145.66h7.51v7.51h-7.51zM245.78 168.19h7.51v7.51h-7.51zM73.05 175.7h7.51v7.51h-7.51zM43.01 183.21h7.51v7.51h-7.51zM238.27 183.21h7.51v7.51h-7.51zM43.01 190.72h7.51v7.51h-7.51zM12.97 198.23h7.51v7.51h-7.51zM43.01 198.23h7.51v7.51h-7.51zM230.76 205.74h7.51v7.51h-7.51zM88.07 220.76h7.51v7.51h-7.51zM193.21 220.76h7.51v7.51h-7.51zM58.03 228.27h7.51v7.51h-7.51zM245.78 228.27h7.51v7.51h-7.51zM65.54 250.8h7.51v7.51h-7.51zM35.5 258.31h7.51v7.51h-7.51zM110.6 258.31h7.51v7.51h-7.51zM185.7 258.31h7.51v7.51h-7.51z"/>
<path fill="#462f7c" d="M88.07 10.48h7.51v7.51h-7.51zM148.15 48.03h7.51v7.51h-7.51zM223.25 55.54h7.51v7.51h-7.51zM230.76 63.05h7.51v7.51h-7.51zM50.52 70.56h7.51v7.51h-7.51zM238.27 78.07h7.51v7.51h-7.51zM73.05 108.11h7.51v7.51h-7.51zM50.52 115.62h7.51v7.51h-7.51zM253.29 123.13h7.51v7.51h-7.51zM253.29 130.64h7.51v7.51h-7.51zM80.56 138.15h7.51v7.51h-7.51zM253.29 138.15h7.51v7.51h-7.51zM223.25 145.66h7.51v7.51h-7.51zM50.52 160.68h7.51v7.51h-7.51zM208.23 183.21h7.51v7.51h-7.51zM-1 190.72h6.46v7.51h-6.46zM223.25 220.76h7.51v7.51h-7.51zM260.8 220.76h6.2v7.51h-6.2zM193.21 228.27h7.51v7.51h-7.51zM65.54 235.78h7.51v7.51h-7.51zM223.25 243.29h7.51v7.51h-7.51zM260.8 250.8h6.2v7.51h-6.2zM80.56 258.31h7.51v7.51h-7.51z"/>
<path fill="#443680" d="M163.17 25.5h7.51v7.51h-7.51zM5.46 48.03h7.51v7.51h-7.51zM43.01 63.05h7.51v7.51h-7.51zM185.7 63.05h7.51v7.51h-7.51zM-1 70.56h6.46v7.51h-6.46zM20.48 78.07h7.51v7.51h-7.51zM35.5 93.09h7.51v7.51h-7.51zM215.74 93.09h7.51v7.51h-7.51zM215.74 168.19h7.51v7.51h-7.51zM20.48 205.74h7.51v7.51h-7.51zM200.72 205.74h7.51v7.51h-7.51zM80.56 213.25h7.51v7.51h-7.51zM-1 220.76h6.46v7.51h-6.46zM95.58 235.78h7.51v7.51h-7.51zM238.27 235.78h7.51v7.51h-7.51zM58.03 243.29h7.51v7.51h-7.51zM245.78 258.31h7.51v7.51h-7.51z"/>
<path fill="#433d83" d="M35.5 -1h7.51v3.97h-7.51zM125.62 -1h7.51v3.97h-7.51zM65.54 2.97h7.51v7.51h-7.51zM95.58 10.48h7.51v7.51h-7.51zM27.99 55.54h7.51v7.51h-7.51zM170.68 55.54h7.51v7.51h-7.51zM208.23 78.07h7.51v7.51h-7.51zM58.03 85.58h7.51v7.51h-7.51zM245.78 100.6h7.51v7.51h-7.51zM245.78 160.68h7.51v7.51h-7.51zM73.05 168.19h7.51v7.51h-7.51zM230.76 198.23h7.51v7.51h-7.51zM73.05 205.74h7.51v7.51h-7.51zM50.52 213.25h7.51v7.51h-7.51zM20.48 235.78h7.51v7.51h-7.51zM73.05 243.29h7.51v7.51h-7.51zM103.09 250.8h7.51v7.51h-7.51z"/>
<path fill="#414487" d="M133.13 2.97h7.51v7.51h-7.51zM140.64 10.48h7.51v7.51h-7.51zM178.19 33.01h7.51v7.51h-7.51zM208.23 48.03h7.51v7.51h-7.51zM200.72 70.56h7.51v7.51h-7.51zM43.01 100.6h7.51v7.51h-7.51zM65.54 100.6h7.51v7.51h-7.51zM223.25 108.11h7.51v7.51h-7.51zM223.25 153.17h7.51v7.51h-7.51zM238.27 175.7h7.51v7.51h-7.51zM208.23 190.72h7.51v7.51h-7.51zM27.99 213.25h7.51v7.51h-7.51zM50.52 235.78h7.51v7.51h-7.51zM193.21 235.78h7.51v7.51h-7.51zM230.76 243.29h7.51v7.51h-7.51z"/>
<path fill="#3e4b88" d="M148.15 17.99h7.51v7.51h-7.51zM140.64 40.52h7.51v7.51h-7.51zM193.21 40.52h7.51v7.51h-7.51zM-1 48.03h6.46v7.51h-6.46zM5.46 70.56h7.51v7.51h-7.51zM238.27 85.58h7.51v7.51h-7.51zM50.52 108.11h7.51v7.51h-7.51zM73.05 115.62h7.51v7.51h-7.51zM58.03 130.64h7.51v7.51h-7.51zM58.03 138.15h7.51v7.51h-7.51zM50.52 168.19h7.51v7.51h-7.51zM223.25 213.25h7.51v7.51h-7.51zM35.5 220.76h7.51v7.51h-7.51zM12.97 228.27h7.51v7.51h-7.51zM43.01 228.27h7.51v7.51h-7.51zM88.07 228.27h7.51v7.51h-7.51zM253.29 228.27h7.51v7.51h-7.51zM27.99 243.29h7.51v7.51h-7.51zM215.74 243.29h7.51v7.51h-7.51zM65.54 258.31h7.51v7.51h-7.51z"/>
<path fill="#3b528a" d="M43.01 -1h7.51v3.97h-7.51zM103.09 10.48h7.51v7.51h-7.51zM155.66 48.03h7.51v7.51h-7.51zM20.48 55.54h7.51v7.51h-7.51zM50.52 78.07h7.51v7.51h-7.51zM58.03 123.13h7.51v7.51h-7.51zM58.03 145.66h7.51v7.51h-7.51zM245.78 153.17h7.51v7.51h-7.51zM73.05 160.68h7.51v7.51h-7.51zM65.54 190.72h7.51v7.51h-7.51zM5.46 198.23h7.51v7.51h-7.51zM58.03 220.76h7.51v7.51h-7.51zM215.74 235.78h7.51v7.51h-7.51zM80.56 250.8h7.51v7.51h-7.51zM215.74 250.8h7.51v7.51h-7.51zM253.29 250.8h7.51v7.51h-7.51z"/>
<path fill="#38588c" d="M50.52 -1h7.51v3.97h-7.51zM73.05 2.97h7.51v7.51h-7.51zM118.11 17.99h7.51v7.51h-7.51zM215.74 55.54h7.51v7.51h-7.51zM193.21 63.05h7.51v7.51h-7.51zM27.99 78.07h7.51v7.51h-7.51zM215.74 85.58h7.51v7.51h-7.51zM245.78 108.11h7.51v7.51h-7.51zM215.74 175.7h7.51v7.51h-7.51zM65.54 183.21h7.51v7.51h-7.51zM230.76 190.72h7.51v7.51h-7.51zM50.52 205.74h7.51v7.51h-7.51zM200.72 213.25h7.51v7.51h-7.51zM65.54 228.27h7.51v7.51h-7.51zM95.58 243.29h7.51v7.51h-7.51zM193.21 243.29h7.51v7.51h-7.51zM35.5 250.8h7.51v7.51h-7.51zM223.25 250.8h7.51v7.51h-7.51z"/>
<path fill="#355f8d" d="M118.11 -1h7.51v3.97h-7.51zM125.62 25.5h7.51v7.51h-7.51zM155.66 25.5h7.51v7.51h-7.51zM133.13 33.01h7.51v7.51h-7.51zM170.68 33.01h7.51v7.51h-7.51zM178.19 55.54h7.51v7.51h-7.51zM12.97 70.56h7.51v7.51h-7.51zM230.76 70.56h7.51v7.51h-7.51zM35.5 85.58h7.51v7.51h-7.51zM58.03 93.09h7.51v7.51h-7.51zM73.05 123.13h7.51v7.51h-7.51zM230.76 123.13h7.51v7.51h-7.51zM230.76 130.64h7.51v7.51h-7.51zM223.25 160.68h7.51v7.51h-7.51zM50.52 175.7h7.51v7.51h-7.51zM65.54 198.23h7.51v7.51h-7.51zM5.46 220.76h7.51v7.51h-7.51zM80.56 220.76h7.51v7.51h-7.51zM238.27 258.31h7.51v7.51h-7.51z"/>
<path fill="#32658d" d="M12.97 55.54h7.51v7.51h-7.51zM35.5 63.05h7.51v7.51h-7.51zM223.25 100.6h7.51v7.51h-7.51zM65.54 108.11h7.51v7.51h-7.51zM58.03 115.62h7.51v7.51h-7.51zM58.03 153.17h7.51v7.51h-7.51zM73.05 153.17h7.51v7.51h-7.51zM50.52 183.21h7.51v7.51h-7.51zM50.52 190.72h7.51v7.51h-7.51zM50.52 198.23h7.51v7.51h-7.51zM208.23 198.23h7.51v7.51h-7.51zM12.97 205.74h7.51v7.51h-7.51zM215.74 228.27h7.51v7.51h-7.51zM73.05 235.78h7.51v7.51h-7.51zM245.78 235.78h7.51v7.51h-7.51zM58.03 250.8h7.51v7.51h-7.51zM193.21 250.8h7.51v7.51h-7.51zM43.01 258.31h7.51v7.51h-7.51zM103.09 258.31h7.51v7.51h-7.51z"/>
<path fill="#306c8e" d="M58.03 -1h7.51v3.97h-7.51zM200.72 48.03h7.51v7.51h-7.51zM223.25 63.05h7.51v7.51h-7.51zM43.01 70.56h7.51v7.51h-7.51zM245.78 115.62h7.51v7.51h-7.51zM73.05 130.64h7.51v7.51h-7.51zM73.05 138.15h7.51v7.51h-7.51zM73.05 145.66h7.51v7.51h-7.51zM245.78 145.66h7.51v7.51h-7.51zM238.27 168.19h7.51v7.51h-7.51zM65.54 175.7h7.51v7.51h-7.51zM260.8 228.27h6.2v7.51h-6.2zM238.27 243.29h7.51v7.51h-7.51zM88.07 258.31h7.51v7.51h-7.51z"/>
<path fill="#2d728e" d="M80.56 2.97h7.51v7.51h-7.51zM110.6 10.48h7.51v7.51h-7.51zM185.7 40.52h7.51v7.51h-7.51zM163.17 48.03h7.51v7.51h-7.51zM-1 63.05h6.46v7.51h-6.46zM20.48 70.56h7.51v7.51h-7.51zM43.01 93.09h7.51v7.51h-7.51zM238.27 93.09h7.51v7.51h-7.51zM230.76 115.62h7.51v7.51h-7.51zM230.76 138.15h7.51v7.51h-7.51zM58.03 160.68h7.51v7.51h-7.51zM230.76 183.21h7.51v7.51h-7.51zM223.25 205.74h7.51v7.51h-7.51zM73.05 213.25h7.51v7.51h-7.51zM200.72 220.76h7.51v7.51h-7.51zM88.07 235.78h7.51v7.51h-7.51zM260.8 243.29h6.2v7.51h-6.2zM245.78 250.8h7.51v7.51h-7.51zM193.21 258.31h7.51v7.51h-7.51zM215.74 258.31h7.51v7.51h-7.51z"/>
<path fill="#2a788e" d="M5.46 55.54h7.51v7.51h-7.51zM208.23 70.56h7.51v7.51h-7.51zM50.52 85.58h7.51v7.51h-7.51zM50.52 100.6h15.02v7.51h-15.02zM58.03 108.11h7.51v7.51h-7.51zM245.78 123.13h7.51v7.51h-7.51zM245.78 130.64h7.51v7.51h-7.51zM215.74 183.21h7.51v7.51h-7.51zM20.48 213.25h7.51v7.51h-7.51zM215.74 220.76h7.51v7.51h-7.51zM20.48 228.27h7.51v7.51h-7.51zM50.52 243.29h7.51v7.51h-7.51zM80.56 243.29h7.51v7.51h-7.51zM95.58 250.8h7.51v7.51h-7.51zM230.76 250.8h7.51v7.51h-7.51z"/>
<path fill="#287e8e" d="M65.54 -1h7.51v3.97h-7.51zM88.07 2.97h7.51v7.51h-7.51zM148.15 40.52h7.51v7.51h-7.51zM-1 55.54h6.46v7.51h-6.46zM185.7 55.54h7.51v7.51h-7.51zM27.99 63.05h7.51v7.51h-7.51zM230.76 78.07h7.51v7.51h-7.51zM65.54 115.62h7.51v7.51h-7.51zM245.78 138.15h7.51v7.51h-7.51zM230.76 145.66h7.51v7.51h-7.51zM65.54 168.19h7.51v7.51h-7.51zM-1 198.23h6.46v7.51h-6.46zM65.54 205.74h7.51v7.51h-7.51zM58.03 213.25h7.51v7.51h-7.51zM27.99 220.76h7.51v7.51h-7.51zM200.72 228.27h7.51v7.51h-7.51zM27.99 235.78h7.51v7.51h-7.51zM223.25 258.31h15.02v7.51h-15.02z"/>
<path fill="#26848d" d="M110.6 -1h7.51v3.97h-7.51zM125.62 2.97h7.51v7.51h-7.51zM133.13 10.48h7.51v7.51h-7.51zM163.17 33.01h7.51v7.51h-7.51zM208.23 55.54h7.51v7.51h-7.51zM200.72 63.05h7.51v7.51h-7.51zM35.5 78.07h7.51v7.51h-7.51zM215.74 78.07h7.51v7.51h-7.51zM223.25 93.09h7.51v7.51h-7.51zM65.54 123.13h7.51v7.51h-7.51zM65.54 130.64h7.51v7.51h-7.51zM65.54 138.15h7.51v7.51h-7.51zM223.25 168.19h7.51v7.51h-7.51zM208.23 205.74h7.51v7.51h-7.51zM-1 213.25h6.46v7.51h-6.46zM12.97 220.76h7.51v7.51h-7.51zM35.5 228.27h7.51v7.51h-7.51zM43.01 235.78h7.51v7.51h-7.51zM88.07 250.8h7.51v7.51h-7.51zM238.27 250.8h7.51v7.51h-7.51z"/>
<path fill="#238b8c" d="M140.64 17.99h7.51v7.51h-7.51zM170.68 48.03h7.51v7.51h-7.51zM5.46 63.05h7.51v7.51h-7.51zM20.48 63.05h7.51v7.51h-7.51zM43.01 78.07h7.51v7.51h-7.51zM50.52 93.09h7.51v7.51h-7.51zM238.27 100.6h7.51v7.51h-7.51zM238.27 160.68h7.51v7.51h-7.51zM58.03 168.19h7.51v7.51h-7.51zM230.76 175.7h7.51v7.51h-7.51zM58.03 183.21h7.51v7.51h-7.51zM58.03 190.72h7.51v7.51h-7.51zM223.25 198.23h7.51v7.51h-7.51zM65.54 220.76h7.51v7.51h-7.51zM80.56 228.27h7.51v7.51h-7.51zM253.29 235.78h7.51v7.51h-7.51zM88.07 243.29h7.51v7.51h-7.51zM208.23 250.8h7.51v7.51h-7.51zM58.03 258.31h7.51v7.51h-7.51z"/>
<path fill="#21918c" d="M95.58 2.97h7.51v7.51h-7.51zM178.19 40.52h7.51v7.51h-7.51zM193.21 48.03h7.51v7.51h-7.51zM12.97 63.05h7.51v7.51h-7.51zM27.99 70.56h7.51v7.51h-7.51zM43.01 85.58h7.51v7.51h-7.51zM230.76 108.11h7.51v7.51h-7.51zM65.54 145.66h7.51v7.51h-7.51zM230.76 153.17h7.51v7.51h-7.51zM65.54 160.68h7.51v7.51h-7.51zM58.03 175.7h7.51v7.51h-7.51zM215.74 190.72h7.51v7.51h-7.51zM58.03 198.23h7.51v7.51h-7.51zM73.05 220.76h7.51v7.51h-7.51zM73.05 228.27h7.51v7.51h-7.51zM80.56 235.78h7.51v7.51h-7.51zM200.72 235.78h7.51v7.51h-7.51zM35.5 243.29h7.51v7.51h-7.51zM208.23 243.29h7.51v7.51h-7.51zM245.78 243.29h15.02v7.51h-15.02zM95.58 258.31h7.51v7.51h-7.51zM208.23 258.31h7.51v7.51h-7.51z"/>
<path fill="#21978a" d="M73.05 -1h7.51v3.97h-7.51zM103.09 -1h7.51v3.97h-7.51zM125.62 17.99h7.51v7.51h-7.51zM148.15 25.5h7.51v7.51h-7.51zM215.74 63.05h7.51v7.51h-7.51zM35.5 70.56h7.51v7.51h-7.51zM230.76 85.58h7.51v7.51h-7.51zM65.54 153.17h7.51v7.51h-7.51zM5.46 205.74h7.51v7.51h-7.51zM58.03 205.74h7.51v7.51h-7.51zM215.74 213.25h7.51v7.51h-7.51zM20.48 220.76h7.51v7.51h-7.51zM27.99 228.27h7.51v7.51h-7.51zM260.8 235.78h6.2v7.51h-6.2zM43.01 250.8h7.51v7.51h-7.51z"/>
<path fill="#229c88" d="M95.58 -1h7.51v3.97h-7.51zM118.11 10.48h7.51v7.51h-7.51zM140.64 33.01h7.51v7.51h-7.51zM193.21 55.54h7.51v7.51h-7.51zM223.25 85.58h7.51v7.51h-7.51zM238.27 108.11h7.51v7.51h-7.51zM238.27 123.13h7.51v7.51h-7.51zM238.27 153.17h7.51v7.51h-7.51zM223.25 175.7h7.51v7.51h-7.51zM5.46 213.25h15.02v7.51h-15.02zM65.54 213.25h7.51v7.51h-7.51zM208.23 235.78h7.51v7.51h-7.51zM50.52 258.31h7.51v7.51h-7.51z"/>
<path fill="#22a286" d="M103.09 2.97h7.51v7.51h-7.51zM133.13 25.5h7.51v7.51h-7.51zM155.66 40.52h7.51v7.51h-7.51zM170.68 40.52h7.51v7.51h-7.51zM200.72 55.54h7.51v7.51h-7.51zM208.23 63.05h7.51v7.51h-7.51zM238.27 115.62h7.51v7.51h-7.51zM238.27 130.64h7.51v7.51h-7.51zM230.76 160.68h7.51v7.51h-7.51zM223.25 190.72h7.51v7.51h-7.51zM208.23 213.25h7.51v7.51h-7.51zM200.72 243.29h7.51v7.51h-7.51zM50.52 250.8h7.51v7.51h-7.51z"/>
<path fill="#22a884" d="M80.56 -1h15.02v3.97h-15.02zM155.66 33.01h7.51v7.51h-7.51zM178.19 48.03h15.02v7.51h-15.02zM215.74 70.56h15.02v7.51h-15.02zM230.76 168.19h7.51v7.51h-7.51zM215.74 198.23h7.51v7.51h-7.51zM208.23 228.27h7.51v7.51h-7.51zM35.5 235.78h7.51v7.51h-7.51zM43.01 243.29h7.51v7.51h-7.51z"/>
<path fill="#2bae7f" d="M118.11 2.97h7.51v7.51h-7.51zM125.62 10.48h7.51v7.51h-7.51zM163.17 40.52h7.51v7.51h-7.51zM230.76 93.09h7.51v7.51h-7.51zM230.76 100.6h7.51v7.51h-7.51zM238.27 138.15h7.51v7.51h-7.51zM238.27 145.66h7.51v7.51h-7.51zM223.25 183.21h7.51v7.51h-7.51zM-1 205.74h6.46v7.51h-6.46zM215.74 205.74h7.51v7.51h-7.51zM208.23 220.76h7.51v7.51h-7.51zM200.72 250.8h7.51v7.51h-7.51z"/>
<path fill="#33b47a" d="M110.6 2.97h7.51v7.51h-7.51zM133.13 17.99h7.51v7.51h-7.51zM148.15 33.01h7.51v7.51h-7.51zM223.25 78.07h7.51v7.51h-7.51zM200.72 258.31h7.51v7.51h-7.51z"/>
<path fill="#3cb975" d="M140.64 25.5h7.51v7.51h-7.51z"/>
</g>
</g>
<clipPath id="hc02"><rect x="1282.2" y="316.5" width="265.1" height="265.1"/></clipPath>
<g clip-path="url(#hc02)">
<rect x="1280.2" y="314.5" width="269.1" height="269.1" fill="#441a56"/>
<g transform="translate(1282.2,316.5)" shape-rendering="crispEdges">
<path fill="#462066" d="M163.17 48.03h7.51v7.51h-7.51zM50.52 205.74h7.51v7.51h-7.51zM58.03 250.8h7.51v7.51h-7.51zM193.21 250.8h7.51v7.51h-7.51z"/>
<path fill="#47246f" d="M80.56 2.97h7.51v7.51h-7.51zM12.97 55.54h7.51v7.51h-7.51zM208.23 70.56h7.51v7.51h-7.51zM58.03 93.09h7.51v7.51h-7.51zM238.27 93.09h7.51v7.51h-7.51zM230.76 138.15h7.51v7.51h-7.51zM245.78 145.66h7.51v7.51h-7.51zM58.03 153.17h7.51v7.51h-7.51zM238.27 168.19h7.51v7.51h-7.51zM50.52 175.7h7.51v7.51h-7.51zM230.76 183.21h7.51v7.51h-7.51zM12.97 205.74h7.51v7.51h-7.51zM223.25 205.74h7.51v7.51h-7.51zM73.05 213.25h7.51v7.51h-7.51zM80.56 220.76h7.51v7.51h-7.51zM215.74 220.76h7.51v7.51h-7.51zM260.8 228.27h6.2v7.51h-6.2zM73.05 235.78h7.51v7.51h-7.51zM245.78 235.78h7.51v7.51h-7.51zM223.25 250.8h7.51v7.51h-7.51zM238.27 258.31h7.51v7.51h-7.51z"/>
<path fill="#482878" d="M58.03 -1h7.51v3.97h-7.51zM140.64 17.99h7.51v7.51h-7.51zM148.15 40.52h7.51v7.51h-7.51zM185.7 40.52h7.51v7.51h-7.51zM200.72 48.03h7.51v7.51h-7.51zM35.5 63.05h7.51v7.51h-7.51zM223.25 63.05h7.51v7.51h-7.51zM215.74 78.07h7.51v7.51h-7.51zM58.03 115.62h7.51v7.51h-7.51zM230.76 115.62h7.51v7.51h-7.51zM245.78 115.62h7.51v7.51h-7.51zM73.05 123.13h7.51v7.51h-7.51zM73.05 153.17h7.51v7.51h-7.51zM65.54 175.7h7.51v7.51h-7.51zM-1 198.23h6.46v7.51h-6.46zM200.72 220.76h7.51v7.51h-7.51zM50.52 243.29h7.51v7.51h-7.51zM193.21 258.31h7.51v7.51h-7.51zM215.74 258.31h7.51v7.51h-7.51z"/>
<path fill="#462f7c" d="M110.6 -1h7.51v3.97h-7.51zM163.17 33.01h7.51v7.51h-7.51zM43.01 70.56h7.51v7.51h-7.51zM215.74 183.21h7.51v7.51h-7.51zM50.52 198.23h7.51v7.51h-7.51zM27.99 235.78h7.51v7.51h-7.51z"/>
<path fill="#443680" d="M133.13 10.48h7.51v7.51h-7.51zM185.7 55.54h7.51v7.51h-7.51zM20.48 70.56h7.51v7.51h-7.51zM230.76 78.07h7.51v7.51h-7.51zM245.78 138.15h7.51v7.51h-7.51zM230.76 145.66h7.51v7.51h-7.51zM58.03 160.68h7.51v7.51h-7.51zM50.52 183.21h7.51v7.51h-7.51zM50.52 190.72h7.51v7.51h-7.51zM208.23 205.74h7.51v7.51h-7.51zM20.48 228.27h7.51v7.51h-7.51zM238.27 243.29h7.51v7.51h-7.51zM260.8 243.29h6.2v7.51h-6.2zM88.07 258.31h7.51v7.51h-7.51z"/>
<path fill="#433d83" d="M88.07 2.97h7.51v7.51h-7.51zM223.25 93.09h7.51v7.51h-7.51zM238.27 100.6h7.51v7.51h-7.51zM73.05 145.66h7.51v7.51h-7.51zM223.25 168.19h7.51v7.51h-7.51zM65.54 205.74h7.51v7.51h-7.51zM-1 213.25h6.46v7.51h-6.46zM20.48 213.25h7.51v7.51h-7.51zM200.72 228.27h7.51v7.51h-7.51zM43.01 235.78h7.51v7.51h-7.51zM88.07 235.78h7.51v7.51h-7.51zM80.56 243.29h7.51v7.51h-7.51zM208.23 250.8h7.51v7.51h-7.51zM245.78 250.8h7.51v7.51h-7.51zM208.23 258.31h7.51v7.51h-7.51z"/>
<path fill="#414487" d="M125.62 2.97h7.51v7.51h-7.51zM148.15 25.5h7.51v7.51h-7.51zM170.68 48.03h7.51v7.51h-7.51zM5.46 55.54h7.51v7.51h-7.51zM208.23 55.54h7.51v7.51h-7.51zM200.72 63.05h7.51v7.51h-7.51zM50.52 85.58h7.51v7.51h-7.51zM43.01 93.09h7.51v7.51h-7.51zM65.54 108.11h7.51v7.51h-7.51zM245.78 123.13h7.51v7.51h-7.51zM73.05 130.64h7.51v7.51h-7.51zM245.78 130.64h7.51v7.51h-7.51zM73.05 138.15h7.51v7.51h-7.51zM230.76 175.7h7.51v7.51h-7.51z"/>
<path fill="#3e4b88" d="M27.99 220.76h7.51v7.51h-7.51z"/>
<path fill="#3b528a" d="M238.27 160.68h7.51v7.51h-7.51zM223.25 198.23h7.51v7.51h-7.51zM58.03 213.25h7.51v7.51h-7.51zM95.58 250.8h7.51v7.51h-7.51z"/>
<path fill="#38588c" d="M95.58 2.97h7.51v7.51h-7.51zM35.5 78.07h7.51v7.51h-7.51zM230.76 153.17h7.51v7.51h-7.51zM65.54 168.19h7.51v7.51h-7.51zM215.74 190.72h7.51v7.51h-7.51zM35.5 228.27h7.51v7.51h-7.51zM35.5 243.29h7.51v7.51h-7.51z"/>
<path fill="#355f8d" d="M65.54 -1h7.51v3.97h-7.51zM118.11 10.48h7.51v7.51h-7.51zM125.62 17.99h7.51v7.51h-7.51zM140.64 33.01h7.51v7.51h-7.51zM178.19 40.52h7.51v7.51h-7.51zM193.21 48.03h7.51v7.51h-7.51zM-1 63.05h6.46v7.51h-6.46zM27.99 63.05h7.51v7.51h-7.51zM50.52 100.6h7.51v7.51h-7.51zM230.76 108.11h7.51v7.51h-7.51zM5.46 205.74h7.51v7.51h-7.51zM215.74 213.25h7.51v7.51h-7.51zM12.97 220.76h7.51v7.51h-7.51zM200.72 235.78h7.51v7.51h-7.51zM58.03 258.31h7.51v7.51h-7.51z"/>
<path fill="#32658d" d="M230.76 85.58h7.51v7.51h-7.51zM208.23 243.29h7.51v7.51h-7.51z"/>
<path fill="#306c8e" d="M230.76 250.8h7.51v7.51h-7.51z"/>
<path fill="#2d728e" d="M58.03 100.6h7.51v7.51h-7.51zM65.54 220.76h7.51v7.51h-7.51zM253.29 235.78h7.51v7.51h-7.51zM43.01 250.8h7.51v7.51h-7.51z"/>
<path fill="#2a788e" d="M223.25 85.58h7.51v7.51h-7.51zM223.25 258.31h15.02v7.51h-15.02z"/>
<path fill="#287e8e" d="M-1 55.54h6.46v7.51h-6.46zM215.74 63.05h7.51v7.51h-7.51zM58.03 108.11h7.51v7.51h-7.51zM65.54 138.15h7.51v7.51h-7.51zM58.03 168.19h7.51v7.51h-7.51zM58.03 190.72h7.51v7.51h-7.51zM80.56 228.27h7.51v7.51h-7.51zM88.07 250.8h7.51v7.51h-7.51z"/>
<path fill="#26848d" d="M103.09 -1h7.51v3.97h-7.51zM155.66 40.52h7.51v7.51h-7.51zM65.54 130.64h7.51v7.51h-7.51zM73.05 228.27h7.51v7.51h-7.51z"/>
<path fill="#238b8c" d="M103.09 2.97h7.51v7.51h-7.51zM193.21 55.54h7.51v7.51h-7.51zM27.99 70.56h7.51v7.51h-7.51zM215.74 70.56h7.51v7.51h-7.51zM65.54 115.62h7.51v7.51h-7.51zM65.54 145.66h7.51v7.51h-7.51zM208.23 235.78h7.51v7.51h-7.51z"/>
<path fill="#21918c" d="M95.58 -1h7.51v3.97h-7.51zM133.13 25.5h7.51v7.51h-7.51zM155.66 33.01h7.51v7.51h-7.51zM5.46 63.05h7.51v7.51h-7.51zM20.48 63.05h7.51v7.51h-7.51zM43.01 78.07h7.51v7.51h-7.51zM238.27 130.64h7.51v7.51h-7.51zM238.27 153.17h7.51v7.51h-7.51zM58.03 183.21h7.51v7.51h-7.51zM223.25 190.72h7.51v7.51h-7.51zM73.05 220.76h7.51v7.51h-7.51zM253.29 243.29h7.51v7.51h-7.51zM238.27 250.8h7.51v7.51h-7.51z"/>
<path fill="#21978a" d="M65.54 160.68h7.51v7.51h-7.51z"/>
<path fill="#229c88" d="M170.68 40.52h7.51v7.51h-7.51zM238.27 108.11h7.51v7.51h-7.51zM65.54 123.13h7.51v7.51h-7.51zM238.27 123.13h7.51v7.51h-7.51zM223.25 175.7h7.51v7.51h-7.51zM5.46 213.25h15.02v7.51h-15.02zM208.23 213.25h7.51v7.51h-7.51zM200.72 243.29h7.51v7.51h-7.51zM245.78 243.29h7.51v7.51h-7.51z"/>
<path fill="#22a286" d="M43.01 85.58h7.51v7.51h-7.51zM58.03 198.23h7.51v7.51h-7.51zM58.03 205.74h7.51v7.51h-7.51zM80.56 235.78h7.51v7.51h-7.51zM88.07 243.29h7.51v7.51h-7.51z"/>
<path fill="#22a884" d="M12.97 63.05h7.51v7.51h-7.51zM35.5 70.56h7.51v7.51h-7.51zM50.52 93.09h7.51v7.51h-7.51zM50.52 250.8h7.51v7.51h-7.51z"/>
<path fill="#2bae7f" d="M223.25 70.56h7.51v7.51h-7.51zM65.54 153.17h7.51v7.51h-7.51zM230.76 160.68h7.51v7.51h-7.51zM58.03 175.7h7.51v7.51h-7.51zM20.48 220.76h7.51v7.51h-7.51zM27.99 228.27h7.51v7.51h-7.51z"/>
<path fill="#33b47a" d="M73.05 -1h7.51v3.97h-7.51zM88.07 -1h7.51v3.97h-7.51zM208.23 63.05h7.51v7.51h-7.51zM238.27 115.62h7.51v7.51h-7.51zM65.54 213.25h7.51v7.51h-7.51zM208.23 228.27h7.51v7.51h-7.51zM260.8 235.78h6.2v7.51h-6.2zM200.72 250.8h7.51v7.51h-7.51zM50.52 258.31h7.51v7.51h-7.51zM95.58 258.31h7.51v7.51h-7.51zM200.72 258.31h7.51v7.51h-7.51z"/>
<path fill="#3cb975" d="M118.11 2.97h7.51v7.51h-7.51zM178.19 48.03h15.02v7.51h-15.02zM238.27 145.66h7.51v7.51h-7.51zM215.74 198.23h7.51v7.51h-7.51z"/>
<path fill="#52c468" d="M125.62 10.48h7.51v7.51h-7.51zM133.13 17.99h7.51v7.51h-7.51zM200.72 55.54h7.51v7.51h-7.51zM230.76 100.6h7.51v7.51h-7.51zM230.76 168.19h7.51v7.51h-7.51zM215.74 205.74h7.51v7.51h-7.51zM208.23 220.76h7.51v7.51h-7.51zM43.01 243.29h7.51v7.51h-7.51z"/>
<path fill="#5fc860" d="M35.5 235.78h7.51v7.51h-7.51z"/>
<path fill="#6ccc59" d="M80.56 -1h7.51v3.97h-7.51zM110.6 2.97h7.51v7.51h-7.51zM140.64 25.5h7.51v7.51h-7.51zM163.17 40.52h7.51v7.51h-7.51zM230.76 93.09h7.51v7.51h-7.51zM238.27 138.15h7.51v7.51h-7.51z"/>
<path fill="#7ad151" d="M148.15 33.01h7.51v7.51h-7.51zM223.25 78.07h7.51v7.51h-7.51zM223.25 183.21h7.51v7.51h-7.51z"/>
<path fill="#e3e325" d="M-1 205.74h6.46v7.51h-6.46z"/>
</g>
</g>
<clipPath id="hc10"><rect x="734.3" y="590.0" width="265.1" height="265.1"/></clipPath>
<g clip-path="url(#hc10)">
<rect x="732.3" y="588.0" width="269.1" height="269.1" fill="#441a56"/>
<g transform="translate(734.3,590.0)" shape-rendering="crispEdges">
<path fill="#451d5d" d="M148.15 -1h7.51v3.97h-7.51zM-1 2.97h21.48v7.51h-21.48zM155.66 2.97h7.51v7.51h-7.51zM27.99 10.48h22.53v7.51h-22.53zM163.17 10.48h15.02v7.51h-15.02zM58.03 17.99h15.02v7.51h-15.02zM178.19 17.99h15.02v7.51h-15.02zM80.56 25.5h22.53v7.51h-22.53zM200.72 25.5h7.51v7.51h-7.51zM5.46 33.01h15.02v7.51h-15.02zM110.6 33.01h7.51v7.51h-7.51zM215.74 33.01h7.51v7.51h-7.51zM27.99 40.52h15.02v7.51h-15.02zM118.11 40.52h7.51v7.51h-7.51zM223.25 40.52h7.51v7.51h-7.51zM43.01 48.03h15.02v7.51h-15.02zM125.62 48.03h7.51v7.51h-7.51zM58.03 55.54h7.51v7.51h-7.51zM133.13 55.54h7.51v7.51h-7.51zM148.15 63.05h7.51v7.51h-7.51zM245.78 63.05h7.51v7.51h-7.51zM65.54 70.56h7.51v7.51h-7.51zM163.17 70.56h15.02v7.51h-15.02zM73.05 78.07h7.51v7.51h-7.51zM178.19 78.07h15.02v7.51h-15.02zM253.29 78.07h7.51v7.51h-7.51zM-1 85.58h13.97v7.51h-13.97zM193.21 85.58h7.51v7.51h-7.51zM12.97 93.09h7.51v7.51h-7.51zM80.56 93.09h7.51v7.51h-7.51zM200.72 93.09h7.51v7.51h-7.51zM260.8 93.09h6.2v7.51h-6.2zM20.48 100.6h7.51v7.51h-7.51zM200.72 100.6h7.51v7.51h-7.51zM260.8 100.6h6.2v7.51h-6.2zM27.99 108.11h7.51v7.51h-7.51zM88.07 108.11h7.51v7.51h-7.51zM208.23 108.11h7.51v7.51h-7.51zM35.5 115.62h7.51v7.51h-7.51zM88.07 115.62h7.51v7.51h-7.51zM208.23 115.62h7.51v7.51h-7.51zM95.58 130.64h7.51v7.51h-7.51zM43.01 138.15h7.51v7.51h-7.51zM95.58 138.15h7.51v7.51h-7.51zM208.23 138.15h7.51v7.51h-7.51zM95.58 145.66h7.51v7.51h-7.51zM208.23 145.66h7.51v7.51h-7.51zM35.5 153.17h7.51v7.51h-7.51zM208.23 153.17h7.51v7.51h-7.51zM35.5 160.68h7.51v7.51h-7.51zM200.72 160.68h7.51v7.51h-7.51zM260.8 160.68h6.2v7.51h-6.2zM35.5 168.19h7.51v7.51h-7.51zM88.07 168.19h7.51v7.51h-7.51zM200.72 168.19h7.51v7.51h-7.51zM260.8 168.19h6.2v7.51h-6.2zM-1 175.7h6.46v7.51h-6.46zM88.07 175.7h7.51v7.51h-7.51zM12.97 183.21h7.51v7.51h-7.51zM27.99 183.21h7.51v7.51h-7.51zM193.21 183.21h7.51v7.51h-7.51zM253.29 183.21h7.51v7.51h-7.51zM27.99 190.72h7.51v7.51h-7.51zM193.21 190.72h7.51v7.51h-7.51zM88.07 198.23h7.51v7.51h-7.51zM245.78 198.23h7.51v7.51h-7.51zM95.58 205.74h7.51v7.51h-7.51zM185.7 205.74h7.51v7.51h-7.51zM245.78 205.74h7.51v7.51h-7.51zM260.8 205.74h6.2v7.51h-6.2zM95.58 213.25h7.51v7.51h-7.51zM245.78 213.25h7.51v7.51h-7.51zM103.09 220.76h7.51v7.51h-7.51zM178.19 220.76h7.51v7.51h-7.51zM178.19 228.27h7.51v7.51h-7.51zM-1 235.78h6.46v7.51h-6.46zM110.6 235.78h7.51v7.51h-7.51zM178.19 235.78h7.51v7.51h-7.51zM5.46 243.29h7.51v7.51h-7.51zM118.11 243.29h7.51v7.51h-7.51zM12.97 250.8h7.51v7.51h-7.51zM20.48 258.31h7.51v7.51h-7.51zM125.62 258.31h7.51v7.51h-7.51zM170.68 258.31h7.51v7.51h-7.51z"/>
<path fill="#462066" d="M20.48 2.97h7.51v7.51h-7.51zM50.52 10.48h7.51v7.51h-7.51zM73.05 17.99h7.51v7.51h-7.51zM170.68 17.99h7.51v7.51h-7.51zM103.09 25.5h7.51v7.51h-7.51zM193.21 25.5h7.51v7.51h-7.51zM-1 33.01h6.46v7.51h-6.46zM208.23 33.01h7.51v7.51h-7.51zM20.48 40.52h7.51v7.51h-7.51zM230.76 48.03h7.51v7.51h-7.51zM50.52 55.54h7.51v7.51h-7.51zM140.64 55.54h7.51v7.51h-7.51zM238.27 55.54h7.51v7.51h-7.51zM58.03 63.05h7.51v7.51h-7.51zM155.66 63.05h7.51v7.51h-7.51zM178.19 70.56h7.51v7.51h-7.51zM245.78 70.56h7.51v7.51h-7.51zM65.54 78.07h7.51v7.51h-7.51zM12.97 85.58h7.51v7.51h-7.51zM73.05 85.58h7.51v7.51h-7.51zM253.29 85.58h7.51v7.51h-7.51zM20.48 93.09h7.51v7.51h-7.51zM27.99 100.6h7.51v7.51h-7.51zM80.56 100.6h7.51v7.51h-7.51zM260.8 108.11h6.2v7.51h-6.2zM260.8 115.62h6.2v7.51h-6.2zM43.01 123.13h7.51v7.51h-7.51zM88.07 123.13h7.51v7.51h-7.51zM215.74 123.13h7.51v7.51h-7.51zM43.01 130.64h7.51v7.51h-7.51zM215.74 130.64h7.51v7.51h-7.51zM43.01 145.66h7.51v7.51h-7.51zM260.8 145.66h6.2v7.51h-6.2zM88.07 153.17h7.51v7.51h-7.51zM260.8 153.17h6.2v7.51h-6.2zM88.07 160.68h7.51v7.51h-7.51zM35.5 175.7h7.51v7.51h-7.51zM200.72 175.7h7.51v7.51h-7.51zM253.29 175.7h7.51v7.51h-7.51zM5.46 183.21h7.51v7.51h-7.51zM35.5 183.21h7.51v7.51h-7.51zM80.56 183.21h7.51v7.51h-7.51zM20.48 190.72h7.51v7.51h-7.51zM80.56 190.72h7.51v7.51h-7.51zM245.78 190.72h7.51v7.51h-7.51zM193.21 198.23h7.51v7.51h-7.51zM88.07 205.74h7.51v7.51h-7.51zM185.7 213.25h7.51v7.51h-7.51zM238.27 213.25h7.51v7.51h-7.51zM253.29 213.25h7.51v7.51h-7.51zM238.27 220.76h7.51v7.51h-7.51zM103.09 228.27h7.51v7.51h-7.51zM178.19 243.29h7.51v7.51h-7.51zM118.11 250.8h7.51v7.51h-7.51zM178.19 250.8h7.51v7.51h-7.51z"/>
<path fill="#47246f" d="M-1 -1h6.46v3.97h-6.46zM140.64 -1h7.51v3.97h-7.51zM27.99 2.97h7.51v7.51h-7.51zM148.15 2.97h7.51v7.51h-7.51zM58.03 10.48h7.51v7.51h-7.51zM155.66 10.48h7.51v7.51h-7.51zM80.56 17.99h7.51v7.51h-7.51zM185.7 25.5h7.51v7.51h-7.51zM200.72 33.01h7.51v7.51h-7.51zM12.97 40.52h7.51v7.51h-7.51zM215.74 40.52h7.51v7.51h-7.51zM35.5 48.03h7.51v7.51h-7.51zM133.13 48.03h7.51v7.51h-7.51zM163.17 63.05h7.51v7.51h-7.51zM193.21 78.07h7.51v7.51h-7.51zM200.72 85.58h7.51v7.51h-7.51zM73.05 93.09h7.51v7.51h-7.51zM253.29 93.09h7.51v7.51h-7.51zM208.23 100.6h7.51v7.51h-7.51zM35.5 108.11h7.51v7.51h-7.51zM80.56 108.11h7.51v7.51h-7.51zM215.74 115.62h7.51v7.51h-7.51zM260.8 123.13h6.2v7.51h-6.2zM88.07 130.64h7.51v7.51h-7.51zM260.8 130.64h6.2v7.51h-6.2zM88.07 138.15h7.51v7.51h-7.51zM215.74 138.15h7.51v7.51h-7.51zM260.8 138.15h6.2v7.51h-6.2zM88.07 145.66h7.51v7.51h-7.51zM43.01 153.17h7.51v7.51h-7.51zM208.23 160.68h7.51v7.51h-7.51zM253.29 168.19h7.51v7.51h-7.51zM80.56 175.7h7.51v7.51h-7.51zM-1 183.21h6.46v7.51h-6.46zM200.72 183.21h7.51v7.51h-7.51zM245.78 183.21h7.51v7.51h-7.51zM12.97 190.72h7.51v7.51h-7.51zM35.5 190.72h7.51v7.51h-7.51zM27.99 198.23h15.02v7.51h-15.02zM80.56 198.23h7.51v7.51h-7.51zM238.27 205.74h7.51v7.51h-7.51zM260.8 213.25h6.2v7.51h-6.2zM95.58 220.76h7.51v7.51h-7.51zM185.7 220.76h7.51v7.51h-7.51zM245.78 220.76h7.51v7.51h-7.51zM5.46 235.78h7.51v7.51h-7.51zM12.97 243.29h7.51v7.51h-7.51zM110.6 243.29h7.51v7.51h-7.51zM20.48 250.8h7.51v7.51h-7.51zM118.11 258.31h7.51v7.51h-7.51zM178.19 258.31h7.51v7.51h-7.51z"/>
<path fill="#482878" d="M5.46 -1h7.51v3.97h-7.51zM35.5 2.97h7.51v7.51h-7.51zM88.07 17.99h7.51v7.51h-7.51zM110.6 25.5h7.51v7.51h-7.51zM118.11 33.01h7.51v7.51h-7.51zM5.46 40.52h7.51v7.51h-7.51zM125.62 40.52h7.51v7.51h-7.51zM27.99 48.03h7.51v7.51h-7.51zM223.25 48.03h7.51v7.51h-7.51zM43.01 55.54h7.51v7.51h-7.51zM148.15 55.54h7.51v7.51h-7.51zM238.27 63.05h7.51v7.51h-7.51zM58.03 70.56h7.51v7.51h-7.51zM-1 78.07h6.46v7.51h-6.46zM245.78 78.07h7.51v7.51h-7.51zM208.23 93.09h7.51v7.51h-7.51zM253.29 100.6h7.51v7.51h-7.51zM43.01 115.62h7.51v7.51h-7.51zM215.74 145.66h7.51v7.51h-7.51zM43.01 160.68h7.51v7.51h-7.51zM253.29 160.68h7.51v7.51h-7.51zM80.56 168.19h7.51v7.51h-7.51zM208.23 168.19h7.51v7.51h-7.51zM35.5 205.74h7.51v7.51h-7.51zM193.21 205.74h7.51v7.51h-7.51zM230.76 220.76h7.51v7.51h-7.51zM185.7 228.27h7.51v7.51h-7.51zM230.76 228.27h7.51v7.51h-7.51zM103.09 235.78h7.51v7.51h-7.51zM27.99 258.31h7.51v7.51h-7.51zM260.8 258.31h6.2v7.51h-6.2z"/>
<path fill="#462f7c" d="M12.97 -1h7.51v3.97h-7.51zM43.01 2.97h7.51v7.51h-7.51zM65.54 10.48h7.51v7.51h-7.51zM95.58 17.99h7.51v7.51h-7.51zM163.17 17.99h7.51v7.51h-7.51zM178.19 25.5h7.51v7.51h-7.51zM208.23 40.52h7.51v7.51h-7.51zM230.76 55.54h7.51v7.51h-7.51zM50.52 63.05h7.51v7.51h-7.51zM170.68 63.05h7.51v7.51h-7.51zM185.7 70.56h7.51v7.51h-7.51zM5.46 78.07h7.51v7.51h-7.51zM20.48 85.58h7.51v7.51h-7.51zM65.54 85.58h7.51v7.51h-7.51zM27.99 93.09h7.51v7.51h-7.51zM215.74 108.11h7.51v7.51h-7.51zM80.56 115.62h7.51v7.51h-7.51zM215.74 153.17h7.51v7.51h-7.51zM43.01 168.19h7.51v7.51h-7.51zM200.72 190.72h7.51v7.51h-7.51zM20.48 198.23h7.51v7.51h-7.51zM238.27 198.23h7.51v7.51h-7.51zM88.07 213.25h7.51v7.51h-7.51zM-1 228.27h6.46v7.51h-6.46zM238.27 228.27h7.51v7.51h-7.51zM185.7 235.78h7.51v7.51h-7.51zM110.6 250.8h7.51v7.51h-7.51z"/>
<path fill="#443680" d="M20.48 -1h7.51v3.97h-7.51zM133.13 -1h7.51v3.97h-7.51zM193.21 33.01h7.51v7.51h-7.51zM-1 40.52h6.46v7.51h-6.46zM20.48 48.03h7.51v7.51h-7.51zM140.64 48.03h7.51v7.51h-7.51zM155.66 55.54h7.51v7.51h-7.51zM245.78 85.58h7.51v7.51h-7.51zM35.5 100.6h7.51v7.51h-7.51zM73.05 100.6h7.51v7.51h-7.51zM253.29 108.11h7.51v7.51h-7.51zM50.52 130.64h7.51v7.51h-7.51zM50.52 138.15h7.51v7.51h-7.51zM50.52 145.66h7.51v7.51h-7.51zM253.29 153.17h7.51v7.51h-7.51zM80.56 160.68h7.51v7.51h-7.51zM245.78 175.7h7.51v7.51h-7.51zM5.46 190.72h7.51v7.51h-7.51zM27.99 205.74h7.51v7.51h-7.51zM80.56 205.74h7.51v7.51h-7.51zM193.21 213.25h7.51v7.51h-7.51zM230.76 213.25h7.51v7.51h-7.51zM253.29 220.76h7.51v7.51h-7.51zM95.58 228.27h7.51v7.51h-7.51zM185.7 243.29h7.51v7.51h-7.51z"/>
<path fill="#433d83" d="M50.52 2.97h7.51v7.51h-7.51zM140.64 2.97h7.51v7.51h-7.51zM73.05 10.48h7.51v7.51h-7.51zM103.09 17.99h7.51v7.51h-7.51zM238.27 70.56h7.51v7.51h-7.51zM12.97 78.07h7.51v7.51h-7.51zM58.03 78.07h7.51v7.51h-7.51zM200.72 78.07h7.51v7.51h-7.51zM43.01 108.11h7.51v7.51h-7.51zM50.52 123.13h7.51v7.51h-7.51zM80.56 123.13h7.51v7.51h-7.51zM80.56 153.17h7.51v7.51h-7.51zM43.01 175.7h7.51v7.51h-7.51zM208.23 175.7h7.51v7.51h-7.51zM73.05 183.21h7.51v7.51h-7.51zM73.05 190.72h7.51v7.51h-7.51zM238.27 190.72h7.51v7.51h-7.51zM43.01 205.74h7.51v7.51h-7.51zM43.01 213.25h7.51v7.51h-7.51zM12.97 235.78h7.51v7.51h-7.51zM20.48 243.29h7.51v7.51h-7.51zM103.09 243.29h7.51v7.51h-7.51zM253.29 258.31h7.51v7.51h-7.51z"/>
<path fill="#414487" d="M27.99 -1h7.51v3.97h-7.51zM148.15 10.48h7.51v7.51h-7.51zM170.68 25.5h7.51v7.51h-7.51zM12.97 48.03h7.51v7.51h-7.51zM215.74 48.03h7.51v7.51h-7.51zM35.5 55.54h7.51v7.51h-7.51zM178.19 63.05h7.51v7.51h-7.51zM193.21 70.56h7.51v7.51h-7.51zM208.23 85.58h7.51v7.51h-7.51zM65.54 93.09h7.51v7.51h-7.51zM215.74 100.6h7.51v7.51h-7.51zM253.29 115.62h7.51v7.51h-7.51zM223.25 123.13h7.51v7.51h-7.51zM80.56 130.64h7.51v7.51h-7.51zM223.25 130.64h7.51v7.51h-7.51zM80.56 145.66h7.51v7.51h-7.51zM253.29 145.66h7.51v7.51h-7.51zM50.52 153.17h7.51v7.51h-7.51zM215.74 160.68h7.51v7.51h-7.51zM43.01 183.21h7.51v7.51h-7.51zM43.01 190.72h7.51v7.51h-7.51zM43.01 198.23h7.51v7.51h-7.51zM200.72 198.23h7.51v7.51h-7.51zM35.5 213.25h7.51v7.51h-7.51zM5.46 228.27h7.51v7.51h-7.51zM230.76 235.78h7.51v7.51h-7.51zM27.99 250.8h7.51v7.51h-7.51zM185.7 250.8h7.51v7.51h-7.51zM110.6 258.31h7.51v7.51h-7.51z"/>
<path fill="#3e4b88" d="M58.03 2.97h7.51v7.51h-7.51zM80.56 10.48h7.51v7.51h-7.51zM155.66 17.99h7.51v7.51h-7.51zM118.11 25.5h7.51v7.51h-7.51zM185.7 33.01h7.51v7.51h-7.51zM133.13 40.52h7.51v7.51h-7.51zM200.72 40.52h7.51v7.51h-7.51zM163.17 55.54h7.51v7.51h-7.51zM-1 70.56h6.46v7.51h-6.46zM50.52 70.56h7.51v7.51h-7.51zM27.99 85.58h7.51v7.51h-7.51zM245.78 93.09h7.51v7.51h-7.51zM73.05 108.11h7.51v7.51h-7.51zM50.52 115.62h7.51v7.51h-7.51zM253.29 123.13h7.51v7.51h-7.51zM80.56 138.15h7.51v7.51h-7.51zM223.25 138.15h7.51v7.51h-7.51zM253.29 138.15h7.51v7.51h-7.51zM245.78 168.19h7.51v7.51h-7.51zM73.05 175.7h7.51v7.51h-7.51zM12.97 198.23h7.51v7.51h-7.51zM73.05 198.23h7.51v7.51h-7.51zM230.76 205.74h7.51v7.51h-7.51zM88.07 220.76h7.51v7.51h-7.51zM193.21 220.76h7.51v7.51h-7.51zM260.8 220.76h6.2v7.51h-6.2zM223.25 228.27h7.51v7.51h-7.51zM245.78 228.27h7.51v7.51h-7.51zM223.25 235.78h7.51v7.51h-7.51zM35.5 258.31h7.51v7.51h-7.51zM185.7 258.31h7.51v7.51h-7.51z"/>
<path fill="#3b528a" d="M125.62 33.01h7.51v7.51h-7.51zM5.46 48.03h7.51v7.51h-7.51zM148.15 48.03h7.51v7.51h-7.51zM223.25 55.54h7.51v7.51h-7.51zM43.01 63.05h7.51v7.51h-7.51zM230.76 63.05h7.51v7.51h-7.51zM35.5 93.09h7.51v7.51h-7.51zM223.25 115.62h7.51v7.51h-7.51zM253.29 130.64h7.51v7.51h-7.51zM50.52 160.68h7.51v7.51h-7.51zM208.23 183.21h7.51v7.51h-7.51zM238.27 183.21h7.51v7.51h-7.51zM-1 190.72h6.46v7.51h-6.46zM80.56 213.25h7.51v7.51h-7.51zM43.01 220.76h15.02v7.51h-15.02zM50.52 228.27h7.51v7.51h-7.51zM58.03 235.78h7.51v7.51h-7.51zM95.58 235.78h7.51v7.51h-7.51zM65.54 243.29h7.51v7.51h-7.51zM73.05 250.8h7.51v7.51h-7.51zM260.8 250.8h6.2v7.51h-6.2zM73.05 258.31h7.51v7.51h-7.51z"/>
<path fill="#38588c" d="M35.5 -1h7.51v3.97h-7.51zM88.07 10.48h7.51v7.51h-7.51zM110.6 17.99h7.51v7.51h-7.51zM27.99 55.54h7.51v7.51h-7.51zM185.7 63.05h7.51v7.51h-7.51zM20.48 78.07h7.51v7.51h-7.51zM238.27 78.07h7.51v7.51h-7.51zM58.03 85.58h7.51v7.51h-7.51zM65.54 100.6h7.51v7.51h-7.51zM223.25 145.66h7.51v7.51h-7.51zM73.05 168.19h7.51v7.51h-7.51zM20.48 205.74h7.51v7.51h-7.51zM-1 220.76h6.46v7.51h-6.46zM223.25 220.76h7.51v7.51h-7.51zM58.03 228.27h7.51v7.51h-7.51zM193.21 228.27h7.51v7.51h-7.51zM238.27 235.78h7.51v7.51h-7.51zM65.54 250.8h7.51v7.51h-7.51zM103.09 250.8h7.51v7.51h-7.51zM245.78 258.31h7.51v7.51h-7.51z"/>
<path fill="#355f8d" d="M125.62 -1h7.51v3.97h-7.51zM65.54 2.97h7.51v7.51h-7.51zM163.17 25.5h7.51v7.51h-7.51zM-1 48.03h6.46v7.51h-6.46zM208.23 48.03h7.51v7.51h-7.51zM5.46 70.56h7.51v7.51h-7.51zM215.74 93.09h7.51v7.51h-7.51zM43.01 100.6h7.51v7.51h-7.51zM245.78 100.6h7.51v7.51h-7.51zM73.05 115.62h7.51v7.51h-7.51zM245.78 160.68h7.51v7.51h-7.51zM215.74 168.19h7.51v7.51h-7.51zM230.76 198.23h7.51v7.51h-7.51zM200.72 205.74h7.51v7.51h-7.51zM50.52 213.25h7.51v7.51h-7.51zM65.54 235.78h7.51v7.51h-7.51zM223.25 243.29h7.51v7.51h-7.51zM80.56 258.31h7.51v7.51h-7.51z"/>
<path fill="#32658d" d="M43.01 -1h7.51v3.97h-7.51zM95.58 10.48h7.51v7.51h-7.51zM178.19 33.01h7.51v7.51h-7.51zM20.48 55.54h7.51v7.51h-7.51zM170.68 55.54h7.51v7.51h-7.51zM200.72 70.56h7.51v7.51h-7.51zM208.23 78.07h7.51v7.51h-7.51zM50.52 108.11h7.51v7.51h-7.51zM58.03 130.64h7.51v7.51h-7.51zM58.03 138.15h7.51v7.51h-7.51zM223.25 153.17h7.51v7.51h-7.51zM73.05 160.68h7.51v7.51h-7.51zM50.52 168.19h7.51v7.51h-7.51zM238.27 175.7h7.51v7.51h-7.51zM208.23 190.72h7.51v7.51h-7.51zM73.05 205.74h7.51v7.51h-7.51zM27.99 213.25h7.51v7.51h-7.51zM12.97 228.27h7.51v7.51h-7.51zM88.07 228.27h7.51v7.51h-7.51zM253.29 228.27h7.51v7.51h-7.51zM20.48 235.78h7.51v7.51h-7.51zM193.21 235.78h7.51v7.51h-7.51zM58.03 243.29h7.51v7.51h-7.51zM73.05 243.29h7.51v7.51h-7.51zM230.76 243.29h7.51v7.51h-7.51z"/>
<path fill="#306c8e" d="M50.52 -1h7.51v3.97h-7.51zM133.13 2.97h7.51v7.51h-7.51zM140.64 10.48h7.51v7.51h-7.51zM140.64 40.52h7.51v7.51h-7.51zM193.21 40.52h7.51v7.51h-7.51zM50.52 78.07h7.51v7.51h-7.51zM65.54 108.11h7.51v7.51h-7.51zM223.25 108.11h7.51v7.51h-7.51zM58.03 123.13h7.51v7.51h-7.51zM73.05 123.13h7.51v7.51h-7.51zM58.03 145.66h7.51v7.51h-7.51zM65.54 190.72h7.51v7.51h-7.51zM5.46 198.23h7.51v7.51h-7.51zM50.52 205.74h7.51v7.51h-7.51zM223.25 213.25h7.51v7.51h-7.51zM35.5 220.76h7.51v7.51h-7.51zM50.52 235.78h7.51v7.51h-7.51zM27.99 243.29h7.51v7.51h-7.51zM95.58 243.29h7.51v7.51h-7.51zM80.56 250.8h7.51v7.51h-7.51zM253.29 250.8h7.51v7.51h-7.51zM65.54 258.31h7.51v7.51h-7.51zM238.27 258.31h7.51v7.51h-7.51z"/>
<path fill="#2d728e" d="M73.05 2.97h7.51v7.51h-7.51zM148.15 17.99h7.51v7.51h-7.51zM155.66 48.03h7.51v7.51h-7.51zM12.97 55.54h7.51v7.51h-7.51zM215.74 55.54h7.51v7.51h-7.51zM35.5 63.05h7.51v7.51h-7.51zM12.97 70.56h7.51v7.51h-7.51zM238.27 85.58h7.51v7.51h-7.51zM58.03 93.09h7.51v7.51h-7.51zM245.78 108.11h7.51v7.51h-7.51zM58.03 115.62h7.51v7.51h-7.51zM73.05 130.64h7.51v7.51h-7.51zM73.05 153.17h7.51v7.51h-7.51zM245.78 153.17h7.51v7.51h-7.51zM50.52 175.7h7.51v7.51h-7.51zM50.52 183.21h7.51v7.51h-7.51zM65.54 183.21h7.51v7.51h-7.51zM50.52 198.23h7.51v7.51h-7.51zM200.72 213.25h7.51v7.51h-7.51zM58.03 220.76h7.51v7.51h-7.51zM80.56 220.76h7.51v7.51h-7.51zM43.01 228.27h7.51v7.51h-7.51zM245.78 235.78h7.51v7.51h-7.51zM193.21 243.29h7.51v7.51h-7.51zM103.09 258.31h7.51v7.51h-7.51z"/>
<path fill="#2a788e" d="M58.03 -1h7.51v3.97h-7.51zM118.11 -1h7.51v3.97h-7.51zM103.09 10.48h7.51v7.51h-7.51zM178.19 55.54h7.51v7.51h-7.51zM-1 63.05h6.46v7.51h-6.46zM193.21 63.05h7.51v7.51h-7.51zM43.01 70.56h7.51v7.51h-7.51zM230.76 70.56h7.51v7.51h-7.51zM27.99 78.07h7.51v7.51h-7.51zM35.5 85.58h7.51v7.51h-7.51zM215.74 85.58h7.51v7.51h-7.51zM50.52 100.6h15.02v7.51h-15.02zM58.03 108.11h7.51v7.51h-7.51zM65.54 115.62h7.51v7.51h-7.51zM73.05 138.15h7.51v7.51h-7.51zM73.05 145.66h7.51v7.51h-7.51zM58.03 153.17h7.51v7.51h-7.51zM65.54 175.7h7.51v7.51h-7.51zM215.74 175.7h7.51v7.51h-7.51zM50.52 190.72h7.51v7.51h-7.51zM230.76 190.72h7.51v7.51h-7.51zM65.54 198.23h7.51v7.51h-7.51zM5.46 220.76h7.51v7.51h-7.51zM65.54 228.27h7.51v7.51h-7.51zM260.8 228.27h6.2v7.51h-6.2zM215.74 235.78h7.51v7.51h-7.51zM238.27 243.29h7.51v7.51h-7.51zM35.5 250.8h7.51v7.51h-7.51zM43.01 258.31h7.51v7.51h-7.51zM88.07 258.31h7.51v7.51h-7.51z"/>
<path fill="#287e8e" d="M118.11 17.99h7.51v7.51h-7.51zM125.62 25.5h7.51v7.51h-7.51zM133.13 33.01h7.51v7.51h-7.51zM170.68 33.01h7.51v7.51h-7.51zM200.72 48.03h7.51v7.51h-7.51zM-1 55.54h13.97v7.51h-13.97zM223.25 63.05h7.51v7.51h-7.51zM50.52 85.58h7.51v7.51h-7.51zM43.01 93.09h7.51v7.51h-7.51zM223.25 100.6h7.51v7.51h-7.51zM245.78 115.62h7.51v7.51h-7.51zM65.54 123.13h7.51v7.51h-7.51zM230.76 123.13h7.51v7.51h-7.51zM230.76 130.64h7.51v7.51h-7.51zM58.03 160.68h7.51v7.51h-7.51zM223.25 160.68h7.51v7.51h-7.51zM238.27 168.19h7.51v7.51h-7.51zM208.23 198.23h7.51v7.51h-7.51zM12.97 205.74h7.51v7.51h-7.51zM73.05 213.25h7.51v7.51h-7.51zM215.74 228.27h7.51v7.51h-7.51zM73.05 235.78h7.51v7.51h-7.51zM88.07 235.78h7.51v7.51h-7.51zM80.56 243.29h7.51v7.51h-7.51zM215.74 243.29h7.51v7.51h-7.51zM260.8 243.29h6.2v7.51h-6.2zM58.03 250.8h7.51v7.51h-7.51zM95.58 250.8h7.51v7.51h-7.51zM223.25 250.8h15.02v7.51h-15.02zM245.78 250.8h7.51v7.51h-7.51zM230.76 258.31h7.51v7.51h-7.51z"/>
<path fill="#26848d" d="M65.54 -1h7.51v3.97h-7.51zM80.56 2.97h7.51v7.51h-7.51zM155.66 25.5h7.51v7.51h-7.51zM185.7 40.52h7.51v7.51h-7.51zM163.17 48.03h7.51v7.51h-7.51zM5.46 63.05h7.51v7.51h-7.51zM27.99 63.05h7.51v7.51h-7.51zM20.48 70.56h7.51v7.51h-7.51zM238.27 93.09h7.51v7.51h-7.51zM245.78 123.13h7.51v7.51h-7.51zM65.54 130.64h7.51v7.51h-7.51zM65.54 138.15h7.51v7.51h-7.51zM245.78 145.66h7.51v7.51h-7.51zM65.54 168.19h7.51v7.51h-7.51zM-1 198.23h6.46v7.51h-6.46zM223.25 205.74h7.51v7.51h-7.51zM20.48 213.25h7.51v7.51h-7.51zM58.03 213.25h7.51v7.51h-7.51zM200.72 220.76h7.51v7.51h-7.51zM88.07 250.8h7.51v7.51h-7.51zM193.21 250.8h7.51v7.51h-7.51zM238.27 250.8h7.51v7.51h-7.51z"/>
<path fill="#238b8c" d="M12.97 63.05h15.02v7.51h-15.02zM43.01 78.07h7.51v7.51h-7.51zM43.01 85.58h7.51v7.51h-7.51zM50.52 93.09h7.51v7.51h-7.51zM230.76 115.62h7.51v7.51h-7.51zM245.78 130.64h7.51v7.51h-7.51zM230.76 138.15h7.51v7.51h-7.51zM245.78 138.15h7.51v7.51h-7.51zM65.54 145.66h7.51v7.51h-7.51zM65.54 160.68h7.51v7.51h-7.51zM58.03 168.19h7.51v7.51h-7.51zM58.03 175.7h7.51v7.51h-7.51zM58.03 183.21h7.51v7.51h-7.51zM215.74 183.21h7.51v7.51h-7.51zM230.76 183.21h7.51v7.51h-7.51zM58.03 190.72h7.51v7.51h-7.51zM65.54 205.74h7.51v7.51h-7.51zM-1 213.25h6.46v7.51h-6.46zM27.99 220.76h7.51v7.51h-7.51zM20.48 228.27h7.51v7.51h-7.51zM80.56 228.27h7.51v7.51h-7.51zM27.99 235.78h7.51v7.51h-7.51zM253.29 235.78h7.51v7.51h-7.51zM88.07 243.29h7.51v7.51h-7.51zM245.78 243.29h7.51v7.51h-7.51zM215.74 250.8h7.51v7.51h-7.51zM95.58 258.31h7.51v7.51h-7.51zM193.21 258.31h7.51v7.51h-7.51zM223.25 258.31h7.51v7.51h-7.51z"/>
<path fill="#21918c" d="M73.05 -1h7.51v3.97h-7.51zM110.6 -1h7.51v3.97h-7.51zM88.07 2.97h7.51v7.51h-7.51zM125.62 2.97h7.51v7.51h-7.51zM110.6 10.48h7.51v7.51h-7.51zM148.15 40.52h7.51v7.51h-7.51zM185.7 55.54h7.51v7.51h-7.51zM208.23 55.54h7.51v7.51h-7.51zM200.72 63.05h7.51v7.51h-7.51zM27.99 70.56h15.02v7.51h-15.02zM208.23 70.56h7.51v7.51h-7.51zM35.5 78.07h7.51v7.51h-7.51zM230.76 78.07h7.51v7.51h-7.51zM230.76 145.66h7.51v7.51h-7.51zM65.54 153.17h7.51v7.51h-7.51zM238.27 160.68h7.51v7.51h-7.51zM223.25 168.19h7.51v7.51h-7.51zM58.03 198.23h7.51v7.51h-7.51zM58.03 205.74h7.51v7.51h-7.51zM208.23 205.74h7.51v7.51h-7.51zM12.97 220.76h7.51v7.51h-7.51zM65.54 220.76h15.02v7.51h-15.02zM215.74 220.76h7.51v7.51h-7.51zM35.5 228.27h7.51v7.51h-7.51zM73.05 228.27h7.51v7.51h-7.51zM200.72 228.27h7.51v7.51h-7.51zM43.01 235.78h7.51v7.51h-7.51zM80.56 235.78h7.51v7.51h-7.51zM260.8 235.78h6.2v7.51h-6.2zM50.52 243.29h7.51v7.51h-7.51zM253.29 243.29h7.51v7.51h-7.51zM58.03 258.31h7.51v7.51h-7.51z"/>
<path fill="#21978a" d="M133.13 10.48h7.51v7.51h-7.51zM163.17 33.01h7.51v7.51h-7.51zM178.19 40.52h7.51v7.51h-7.51zM170.68 48.03h7.51v7.51h-7.51zM193.21 48.03h7.51v7.51h-7.51zM215.74 78.07h7.51v7.51h-7.51zM223.25 93.09h7.51v7.51h-7.51zM238.27 100.6h7.51v7.51h-7.51zM230.76 175.7h7.51v7.51h-7.51zM223.25 198.23h7.51v7.51h-7.51zM65.54 213.25h7.51v7.51h-7.51zM20.48 220.76h7.51v7.51h-7.51zM27.99 228.27h7.51v7.51h-7.51zM35.5 243.29h7.51v7.51h-7.51zM50.52 258.31h7.51v7.51h-7.51z"/>
<path fill="#229c88" d="M80.56 -1h7.51v3.97h-7.51zM103.09 -1h7.51v3.97h-7.51zM95.58 2.97h7.51v7.51h-7.51zM140.64 17.99h7.51v7.51h-7.51zM193.21 55.54h7.51v7.51h-7.51zM215.74 63.05h7.51v7.51h-7.51zM230.76 108.11h15.02v7.51h-15.02zM230.76 153.17h7.51v7.51h-7.51zM215.74 190.72h7.51v7.51h-7.51zM5.46 205.74h7.51v7.51h-7.51zM5.46 213.25h15.02v7.51h-15.02zM215.74 213.25h7.51v7.51h-7.51zM200.72 235.78h7.51v7.51h-7.51zM43.01 250.8h15.02v7.51h-15.02zM215.74 258.31h7.51v7.51h-7.51z"/>
<path fill="#22a286" d="M88.07 -1h15.02v3.97h-15.02zM103.09 2.97h7.51v7.51h-7.51zM125.62 17.99h7.51v7.51h-7.51zM148.15 25.5h7.51v7.51h-7.51zM140.64 33.01h7.51v7.51h-7.51zM155.66 40.52h7.51v7.51h-7.51zM170.68 40.52h7.51v7.51h-7.51zM178.19 48.03h15.02v7.51h-15.02zM200.72 55.54h7.51v7.51h-7.51zM208.23 63.05h7.51v7.51h-7.51zM223.25 70.56h7.51v7.51h-7.51zM230.76 85.58h7.51v7.51h-7.51zM238.27 115.62h7.51v7.51h-7.51zM238.27 123.13h7.51v7.51h-7.51zM238.27 130.64h7.51v7.51h-7.51zM238.27 153.17h7.51v7.51h-7.51zM230.76 160.68h7.51v7.51h-7.51zM230.76 168.19h7.51v7.51h-7.51zM223.25 175.7h7.51v7.51h-7.51zM223.25 190.72h7.51v7.51h-7.51zM-1 205.74h6.46v7.51h-6.46zM208.23 213.25h7.51v7.51h-7.51zM208.23 228.27h7.51v7.51h-7.51zM35.5 235.78h7.51v7.51h-7.51zM208.23 235.78h7.51v7.51h-7.51zM43.01 243.29h7.51v7.51h-7.51zM200.72 243.29h15.02v7.51h-15.02z"/>
<path fill="#22a884" d="M118.11 2.97h7.51v7.51h-7.51zM118.11 10.48h7.51v7.51h-7.51zM133.13 25.5h7.51v7.51h-7.51zM155.66 33.01h7.51v7.51h-7.51zM163.17 40.52h7.51v7.51h-7.51zM215.74 70.56h7.51v7.51h-7.51zM223.25 85.58h7.51v7.51h-7.51zM230.76 93.09h7.51v7.51h-7.51zM230.76 100.6h7.51v7.51h-7.51zM238.27 138.15h7.51v7.51h-7.51zM238.27 145.66h7.51v7.51h-7.51zM223.25 183.21h7.51v7.51h-7.51zM215.74 198.23h7.51v7.51h-7.51zM215.74 205.74h7.51v7.51h-7.51zM208.23 220.76h7.51v7.51h-7.51zM208.23 250.8h7.51v7.51h-7.51z"/>
<path fill="#2bae7f" d="M110.6 2.97h7.51v7.51h-7.51zM125.62 10.48h7.51v7.51h-7.51zM133.13 17.99h7.51v7.51h-7.51zM223.25 78.07h7.51v7.51h-7.51zM200.72 250.8h7.51v7.51h-7.51z"/>
<path fill="#33b47a" d="M140.64 25.5h7.51v7.51h-7.51zM148.15 33.01h7.51v7.51h-7.51zM208.23 258.31h7.51v7.51h-7.51z"/>
<path fill="#3cb975" d="M200.72 258.31h7.51v7.51h-7.51z"/>
</g>
</g>
<clipPath id="hc11"><rect x="1008.1" y="590.0" width="265.1" height="265.1"/></clipPath>
<g clip-path="url(#hc11)">
<rect x="1006.1" y="588.0" width="269.1" height="269.1" fill="#441a56"/>
<g transform="translate(1008.1,590.0)" shape-rendering="crispEdges">
<path fill="#451d5d" d="M5.46 -1h7.51v3.97h-7.51zM35.5 2.97h7.51v7.51h-7.51zM58.03 10.48h15.02v7.51h-15.02zM88.07 17.99h15.02v7.51h-15.02zM163.17 17.99h7.51v7.51h-7.51zM110.6 25.5h7.51v7.51h-7.51zM178.19 25.5h15.02v7.51h-15.02zM118.11 33.01h7.51v7.51h-7.51zM200.72 33.01h7.51v7.51h-7.51zM5.46 40.52h7.51v7.51h-7.51zM125.62 40.52h7.51v7.51h-7.51zM27.99 48.03h7.51v7.51h-7.51zM223.25 48.03h7.51v7.51h-7.51zM43.01 55.54h7.51v7.51h-7.51zM148.15 55.54h7.51v7.51h-7.51zM230.76 55.54h7.51v7.51h-7.51zM170.68 63.05h7.51v7.51h-7.51zM238.27 63.05h7.51v7.51h-7.51zM58.03 70.56h7.51v7.51h-7.51zM185.7 70.56h7.51v7.51h-7.51zM-1 78.07h6.46v7.51h-6.46zM245.78 78.07h7.51v7.51h-7.51zM20.48 85.58h7.51v7.51h-7.51zM65.54 85.58h7.51v7.51h-7.51zM27.99 93.09h7.51v7.51h-7.51zM73.05 93.09h7.51v7.51h-7.51zM208.23 93.09h7.51v7.51h-7.51zM253.29 100.6h7.51v7.51h-7.51zM80.56 108.11h7.51v7.51h-7.51zM215.74 108.11h7.51v7.51h-7.51zM43.01 115.62h7.51v7.51h-7.51zM215.74 115.62h7.51v7.51h-7.51zM260.8 123.13h6.2v7.51h-6.2zM88.07 130.64h7.51v7.51h-7.51zM260.8 130.64h6.2v7.51h-6.2zM50.52 138.15h7.51v7.51h-7.51zM88.07 138.15h7.51v7.51h-7.51zM260.8 138.15h6.2v7.51h-6.2zM88.07 145.66h7.51v7.51h-7.51zM215.74 145.66h7.51v7.51h-7.51zM215.74 153.17h7.51v7.51h-7.51zM43.01 160.68h7.51v7.51h-7.51zM253.29 160.68h7.51v7.51h-7.51zM80.56 168.19h7.51v7.51h-7.51zM208.23 168.19h7.51v7.51h-7.51zM-1 183.21h6.46v7.51h-6.46zM200.72 183.21h7.51v7.51h-7.51zM12.97 190.72h7.51v7.51h-7.51zM200.72 190.72h7.51v7.51h-7.51zM20.48 198.23h7.51v7.51h-7.51zM238.27 198.23h7.51v7.51h-7.51zM35.5 205.74h7.51v7.51h-7.51zM193.21 205.74h7.51v7.51h-7.51zM88.07 213.25h7.51v7.51h-7.51zM260.8 213.25h6.2v7.51h-6.2zM95.58 220.76h7.51v7.51h-7.51zM230.76 220.76h7.51v7.51h-7.51zM245.78 220.76h7.51v7.51h-7.51zM-1 228.27h6.46v7.51h-6.46zM185.7 228.27h7.51v7.51h-7.51zM238.27 228.27h7.51v7.51h-7.51zM103.09 235.78h7.51v7.51h-7.51zM185.7 235.78h7.51v7.51h-7.51zM110.6 250.8h7.51v7.51h-7.51zM27.99 258.31h7.51v7.51h-7.51zM118.11 258.31h7.51v7.51h-7.51zM260.8 258.31h6.2v7.51h-6.2z"/>
<path fill="#462066" d="M12.97 -1h15.02v3.97h-15.02zM133.13 -1h7.51v3.97h-7.51zM43.01 2.97h15.02v7.51h-15.02zM140.64 2.97h7.51v7.51h-7.51zM73.05 10.48h7.51v7.51h-7.51zM148.15 10.48h7.51v7.51h-7.51zM103.09 17.99h7.51v7.51h-7.51zM170.68 25.5h7.51v7.51h-7.51zM193.21 33.01h7.51v7.51h-7.51zM-1 40.52h6.46v7.51h-6.46zM208.23 40.52h7.51v7.51h-7.51zM20.48 48.03h7.51v7.51h-7.51zM140.64 48.03h7.51v7.51h-7.51zM155.66 55.54h7.51v7.51h-7.51zM50.52 63.05h7.51v7.51h-7.51zM238.27 70.56h7.51v7.51h-7.51zM5.46 78.07h7.51v7.51h-7.51zM200.72 78.07h7.51v7.51h-7.51zM208.23 85.58h7.51v7.51h-7.51zM245.78 85.58h7.51v7.51h-7.51zM35.5 100.6h7.51v7.51h-7.51zM73.05 100.6h7.51v7.51h-7.51zM253.29 108.11h7.51v7.51h-7.51zM80.56 115.62h7.51v7.51h-7.51zM50.52 123.13h7.51v7.51h-7.51zM223.25 123.13h7.51v7.51h-7.51zM50.52 130.64h7.51v7.51h-7.51zM223.25 130.64h7.51v7.51h-7.51zM50.52 145.66h7.51v7.51h-7.51zM253.29 153.17h7.51v7.51h-7.51zM80.56 160.68h7.51v7.51h-7.51zM43.01 168.19h7.51v7.51h-7.51zM208.23 175.7h7.51v7.51h-7.51zM245.78 175.7h7.51v7.51h-7.51zM73.05 183.21h7.51v7.51h-7.51zM5.46 190.72h7.51v7.51h-7.51zM73.05 190.72h7.51v7.51h-7.51zM238.27 190.72h7.51v7.51h-7.51zM27.99 205.74h7.51v7.51h-7.51zM43.01 205.74h7.51v7.51h-7.51zM80.56 205.74h7.51v7.51h-7.51zM43.01 213.25h7.51v7.51h-7.51zM193.21 213.25h7.51v7.51h-7.51zM230.76 213.25h7.51v7.51h-7.51zM253.29 220.76h7.51v7.51h-7.51zM95.58 228.27h7.51v7.51h-7.51zM223.25 228.27h7.51v7.51h-7.51zM12.97 235.78h7.51v7.51h-7.51zM223.25 235.78h15.02v7.51h-15.02zM20.48 243.29h7.51v7.51h-7.51zM185.7 243.29h7.51v7.51h-7.51zM253.29 258.31h7.51v7.51h-7.51z"/>
<path fill="#47246f" d="M155.66 17.99h7.51v7.51h-7.51zM118.11 25.5h7.51v7.51h-7.51zM133.13 40.52h7.51v7.51h-7.51zM12.97 48.03h7.51v7.51h-7.51zM215.74 48.03h7.51v7.51h-7.51zM178.19 63.05h7.51v7.51h-7.51zM193.21 70.56h7.51v7.51h-7.51zM12.97 78.07h7.51v7.51h-7.51zM58.03 78.07h7.51v7.51h-7.51zM215.74 100.6h7.51v7.51h-7.51zM43.01 108.11h7.51v7.51h-7.51zM253.29 115.62h7.51v7.51h-7.51zM80.56 123.13h7.51v7.51h-7.51zM223.25 138.15h7.51v7.51h-7.51zM253.29 145.66h7.51v7.51h-7.51zM50.52 153.17h7.51v7.51h-7.51zM80.56 153.17h7.51v7.51h-7.51zM215.74 160.68h7.51v7.51h-7.51zM43.01 175.7h7.51v7.51h-7.51zM43.01 198.23h7.51v7.51h-7.51zM73.05 198.23h7.51v7.51h-7.51zM200.72 198.23h7.51v7.51h-7.51zM35.5 213.25h7.51v7.51h-7.51zM43.01 220.76h15.02v7.51h-15.02zM5.46 228.27h7.51v7.51h-7.51zM50.52 228.27h7.51v7.51h-7.51zM58.03 235.78h7.51v7.51h-7.51zM65.54 243.29h7.51v7.51h-7.51zM103.09 243.29h7.51v7.51h-7.51zM27.99 250.8h7.51v7.51h-7.51zM73.05 250.8h7.51v7.51h-7.51zM185.7 250.8h7.51v7.51h-7.51zM73.05 258.31h7.51v7.51h-7.51z"/>
<path fill="#482878" d="M27.99 -1h7.51v3.97h-7.51zM58.03 2.97h7.51v7.51h-7.51zM80.56 10.48h7.51v7.51h-7.51zM110.6 17.99h7.51v7.51h-7.51zM125.62 33.01h7.51v7.51h-7.51zM185.7 33.01h7.51v7.51h-7.51zM200.72 40.52h7.51v7.51h-7.51zM35.5 55.54h7.51v7.51h-7.51zM163.17 55.54h7.51v7.51h-7.51zM27.99 85.58h7.51v7.51h-7.51zM65.54 93.09h7.51v7.51h-7.51zM245.78 93.09h7.51v7.51h-7.51zM50.52 115.62h7.51v7.51h-7.51zM223.25 115.62h7.51v7.51h-7.51zM80.56 130.64h7.51v7.51h-7.51zM253.29 138.15h7.51v7.51h-7.51zM80.56 145.66h7.51v7.51h-7.51zM245.78 168.19h7.51v7.51h-7.51zM73.05 175.7h7.51v7.51h-7.51zM43.01 183.21h7.51v7.51h-7.51zM238.27 183.21h7.51v7.51h-7.51zM43.01 190.72h7.51v7.51h-7.51zM12.97 198.23h7.51v7.51h-7.51zM230.76 205.74h7.51v7.51h-7.51zM88.07 220.76h7.51v7.51h-7.51zM193.21 220.76h7.51v7.51h-7.51zM223.25 220.76h7.51v7.51h-7.51zM58.03 228.27h7.51v7.51h-7.51zM245.78 228.27h7.51v7.51h-7.51zM65.54 250.8h7.51v7.51h-7.51zM35.5 258.31h7.51v7.51h-7.51zM110.6 258.31h7.51v7.51h-7.51zM185.7 258.31h7.51v7.51h-7.51z"/>
<path fill="#462f7c" d="M88.07 10.48h7.51v7.51h-7.51zM148.15 48.03h7.51v7.51h-7.51zM223.25 55.54h7.51v7.51h-7.51zM230.76 63.05h7.51v7.51h-7.51zM50.52 70.56h7.51v7.51h-7.51zM20.48 78.07h7.51v7.51h-7.51zM238.27 78.07h7.51v7.51h-7.51zM73.05 108.11h7.51v7.51h-7.51zM253.29 123.13h7.51v7.51h-7.51zM253.29 130.64h7.51v7.51h-7.51zM80.56 138.15h7.51v7.51h-7.51zM223.25 145.66h7.51v7.51h-7.51zM50.52 160.68h7.51v7.51h-7.51zM208.23 183.21h7.51v7.51h-7.51zM-1 190.72h6.46v7.51h-6.46zM80.56 213.25h7.51v7.51h-7.51zM260.8 220.76h6.2v7.51h-6.2zM193.21 228.27h7.51v7.51h-7.51zM65.54 235.78h7.51v7.51h-7.51zM223.25 243.29h7.51v7.51h-7.51zM260.8 250.8h6.2v7.51h-6.2zM80.56 258.31h7.51v7.51h-7.51z"/>
<path fill="#443680" d="M125.62 -1h7.51v3.97h-7.51zM163.17 25.5h7.51v7.51h-7.51zM5.46 48.03h7.51v7.51h-7.51zM43.01 63.05h7.51v7.51h-7.51zM185.7 63.05h7.51v7.51h-7.51zM-1 70.56h6.46v7.51h-6.46zM35.5 93.09h7.51v7.51h-7.51zM215.74 93.09h7.51v7.51h-7.51zM245.78 100.6h7.51v7.51h-7.51zM73.05 168.19h7.51v7.51h-7.51zM215.74 168.19h7.51v7.51h-7.51zM20.48 205.74h7.51v7.51h-7.51zM200.72 205.74h7.51v7.51h-7.51zM-1 220.76h6.46v7.51h-6.46zM95.58 235.78h7.51v7.51h-7.51zM238.27 235.78h7.51v7.51h-7.51zM58.03 243.29h7.51v7.51h-7.51zM245.78 258.31h7.51v7.51h-7.51z"/>
<path fill="#433d83" d="M35.5 -1h7.51v3.97h-7.51zM65.54 2.97h7.51v7.51h-7.51zM95.58 10.48h7.51v7.51h-7.51zM178.19 33.01h7.51v7.51h-7.51zM208.23 48.03h7.51v7.51h-7.51zM27.99 55.54h7.51v7.51h-7.51zM170.68 55.54h7.51v7.51h-7.51zM200.72 70.56h7.51v7.51h-7.51zM208.23 78.07h7.51v7.51h-7.51zM58.03 85.58h7.51v7.51h-7.51zM245.78 160.68h7.51v7.51h-7.51zM230.76 198.23h7.51v7.51h-7.51zM73.05 205.74h7.51v7.51h-7.51zM50.52 213.25h7.51v7.51h-7.51zM20.48 235.78h7.51v7.51h-7.51zM193.21 235.78h7.51v7.51h-7.51zM73.05 243.29h7.51v7.51h-7.51zM103.09 250.8h7.51v7.51h-7.51z"/>
<path fill="#414487" d="M133.13 2.97h7.51v7.51h-7.51zM140.64 10.48h7.51v7.51h-7.51zM193.21 40.52h7.51v7.51h-7.51zM43.01 100.6h7.51v7.51h-7.51zM65.54 100.6h7.51v7.51h-7.51zM223.25 108.11h7.51v7.51h-7.51zM223.25 153.17h7.51v7.51h-7.51zM238.27 175.7h7.51v7.51h-7.51zM208.23 190.72h7.51v7.51h-7.51zM27.99 213.25h7.51v7.51h-7.51zM12.97 228.27h7.51v7.51h-7.51zM50.52 235.78h7.51v7.51h-7.51zM215.74 243.29h7.51v7.51h-7.51zM230.76 243.29h7.51v7.51h-7.51z"/>
<path fill="#3e4b88" d="M43.01 -1h7.51v3.97h-7.51zM148.15 17.99h7.51v7.51h-7.51zM140.64 40.52h7.51v7.51h-7.51zM-1 48.03h6.46v7.51h-6.46zM20.48 55.54h7.51v7.51h-7.51zM5.46 70.56h7.51v7.51h-7.51zM238.27 85.58h7.51v7.51h-7.51zM50.52 108.11h7.51v7.51h-7.51zM73.05 115.62h7.51v7.51h-7.51zM58.03 130.64h7.51v7.51h-7.51zM58.03 138.15h7.51v7.51h-7.51zM50.52 168.19h7.51v7.51h-7.51zM65.54 190.72h7.51v7.51h-7.51zM5.46 198.23h7.51v7.51h-7.51zM223.25 213.25h7.51v7.51h-7.51zM35.5 220.76h7.51v7.51h-7.51zM43.01 228.27h7.51v7.51h-7.51zM88.07 228.27h7.51v7.51h-7.51zM253.29 228.27h7.51v7.51h-7.51zM27.99 243.29h7.51v7.51h-7.51zM80.56 250.8h7.51v7.51h-7.51zM65.54 258.31h7.51v7.51h-7.51z"/>
<path fill="#3b528a" d="M103.09 10.48h7.51v7.51h-7.51zM155.66 48.03h7.51v7.51h-7.51zM215.74 55.54h7.51v7.51h-7.51zM50.52 78.07h7.51v7.51h-7.51zM215.74 85.58h7.51v7.51h-7.51zM245.78 108.11h7.51v7.51h-7.51zM58.03 123.13h7.51v7.51h-7.51zM58.03 145.66h7.51v7.51h-7.51zM245.78 153.17h7.51v7.51h-7.51zM73.05 160.68h7.51v7.51h-7.51zM65.54 183.21h7.51v7.51h-7.51zM200.72 213.25h7.51v7.51h-7.51zM58.03 220.76h7.51v7.51h-7.51zM215.74 235.78h7.51v7.51h-7.51zM95.58 243.29h7.51v7.51h-7.51zM193.21 243.29h7.51v7.51h-7.51zM215.74 250.8h7.51v7.51h-7.51zM253.29 250.8h7.51v7.51h-7.51z"/>
<path fill="#38588c" d="M50.52 -1h7.51v3.97h-7.51zM73.05 2.97h7.51v7.51h-7.51zM118.11 17.99h7.51v7.51h-7.51zM170.68 33.01h7.51v7.51h-7.51zM193.21 63.05h7.51v7.51h-7.51zM12.97 70.56h7.51v7.51h-7.51zM230.76 70.56h7.51v7.51h-7.51zM27.99 78.07h7.51v7.51h-7.51zM35.5 85.58h7.51v7.51h-7.51zM215.74 175.7h7.51v7.51h-7.51zM230.76 190.72h7.51v7.51h-7.51zM50.52 205.74h7.51v7.51h-7.51zM65.54 228.27h7.51v7.51h-7.51zM35.5 250.8h7.51v7.51h-7.51zM223.25 250.8h7.51v7.51h-7.51z"/>
<path fill="#355f8d" d="M118.11 -1h7.51v3.97h-7.51zM125.62 25.5h7.51v7.51h-7.51zM155.66 25.5h7.51v7.51h-7.51zM133.13 33.01h7.51v7.51h-7.51zM12.97 55.54h7.51v7.51h-7.51zM178.19 55.54h7.51v7.51h-7.51zM35.5 63.05h7.51v7.51h-7.51zM58.03 93.09h7.51v7.51h-7.51zM58.03 115.62h7.51v7.51h-7.51zM73.05 123.13h7.51v7.51h-7.51zM230.76 123.13h7.51v7.51h-7.51zM230.76 130.64h7.51v7.51h-7.51zM223.25 160.68h7.51v7.51h-7.51zM50.52 175.7h7.51v7.51h-7.51zM65.54 198.23h7.51v7.51h-7.51zM208.23 198.23h7.51v7.51h-7.51zM5.46 220.76h7.51v7.51h-7.51zM80.56 220.76h7.51v7.51h-7.51zM215.74 228.27h7.51v7.51h-7.51zM245.78 235.78h7.51v7.51h-7.51zM43.01 258.31h7.51v7.51h-7.51zM238.27 258.31h7.51v7.51h-7.51z"/>
<path fill="#32658d" d="M58.03 -1h7.51v3.97h-7.51zM43.01 70.56h7.51v7.51h-7.51zM223.25 100.6h7.51v7.51h-7.51zM65.54 108.11h7.51v7.51h-7.51zM73.05 130.64h7.51v7.51h-7.51zM58.03 153.17h7.51v7.51h-7.51zM73.05 153.17h7.51v7.51h-7.51zM65.54 175.7h7.51v7.51h-7.51zM50.52 183.21h7.51v7.51h-7.51zM50.52 190.72h7.51v7.51h-7.51zM50.52 198.23h7.51v7.51h-7.51zM12.97 205.74h7.51v7.51h-7.51zM73.05 235.78h7.51v7.51h-7.51zM58.03 250.8h7.51v7.51h-7.51zM193.21 250.8h7.51v7.51h-7.51zM103.09 258.31h7.51v7.51h-7.51z"/>
<path fill="#306c8e" d="M185.7 40.52h7.51v7.51h-7.51zM163.17 48.03h7.51v7.51h-7.51zM200.72 48.03h7.51v7.51h-7.51zM223.25 63.05h7.51v7.51h-7.51zM238.27 93.09h7.51v7.51h-7.51zM245.78 115.62h7.51v7.51h-7.51zM73.05 138.15h7.51v7.51h-7.51zM73.05 145.66h7.51v7.51h-7.51zM245.78 145.66h7.51v7.51h-7.51zM238.27 168.19h7.51v7.51h-7.51zM223.25 205.74h7.51v7.51h-7.51zM73.05 213.25h7.51v7.51h-7.51zM260.8 228.27h6.2v7.51h-6.2zM238.27 243.29h7.51v7.51h-7.51zM88.07 258.31h7.51v7.51h-7.51z"/>
<path fill="#2d728e" d="M80.56 2.97h7.51v7.51h-7.51zM110.6 10.48h7.51v7.51h-7.51zM5.46 55.54h7.51v7.51h-7.51zM-1 63.05h6.46v7.51h-6.46zM20.48 70.56h7.51v7.51h-7.51zM208.23 70.56h7.51v7.51h-7.51zM43.01 93.09h7.51v7.51h-7.51zM50.52 100.6h15.02v7.51h-15.02zM58.03 108.11h7.51v7.51h-7.51zM230.76 115.62h7.51v7.51h-7.51zM245.78 123.13h7.51v7.51h-7.51zM230.76 138.15h7.51v7.51h-7.51zM58.03 160.68h7.51v7.51h-7.51zM230.76 183.21h7.51v7.51h-7.51zM20.48 213.25h7.51v7.51h-7.51zM200.72 220.76h7.51v7.51h-7.51zM88.07 235.78h7.51v7.51h-7.51zM80.56 243.29h7.51v7.51h-7.51zM260.8 243.29h6.2v7.51h-6.2zM245.78 250.8h7.51v7.51h-7.51zM193.21 258.31h7.51v7.51h-7.51zM215.74 258.31h7.51v7.51h-7.51z"/>
<path fill="#2a788e" d="M65.54 -1h7.51v3.97h-7.51zM148.15 40.52h7.51v7.51h-7.51zM50.52 85.58h7.51v7.51h-7.51zM65.54 115.62h7.51v7.51h-7.51zM245.78 130.64h7.51v7.51h-7.51zM245.78 138.15h7.51v7.51h-7.51zM65.54 168.19h7.51v7.51h-7.51zM215.74 183.21h7.51v7.51h-7.51zM-1 198.23h6.46v7.51h-6.46zM27.99 220.76h7.51v7.51h-7.51zM215.74 220.76h7.51v7.51h-7.51zM20.48 228.27h7.51v7.51h-7.51zM27.99 235.78h7.51v7.51h-7.51zM50.52 243.29h7.51v7.51h-7.51zM95.58 250.8h7.51v7.51h-7.51zM230.76 250.8h7.51v7.51h-7.51zM230.76 258.31h7.51v7.51h-7.51z"/>
<path fill="#287e8e" d="M110.6 -1h7.51v3.97h-7.51zM88.07 2.97h7.51v7.51h-7.51zM125.62 2.97h7.51v7.51h-7.51zM163.17 33.01h7.51v7.51h-7.51zM-1 55.54h6.46v7.51h-6.46zM185.7 55.54h7.51v7.51h-7.51zM27.99 63.05h7.51v7.51h-7.51zM215.74 78.07h7.51v7.51h-7.51zM230.76 78.07h7.51v7.51h-7.51zM230.76 145.66h7.51v7.51h-7.51zM223.25 168.19h7.51v7.51h-7.51zM65.54 205.74h7.51v7.51h-7.51zM208.23 205.74h7.51v7.51h-7.51zM58.03 213.25h7.51v7.51h-7.51zM200.72 228.27h7.51v7.51h-7.51zM238.27 250.8h7.51v7.51h-7.51zM223.25 258.31h7.51v7.51h-7.51z"/>
<path fill="#26848d" d="M133.13 10.48h7.51v7.51h-7.51zM140.64 17.99h7.51v7.51h-7.51zM170.68 48.03h7.51v7.51h-7.51zM208.23 55.54h7.51v7.51h-7.51zM5.46 63.05h7.51v7.51h-7.51zM200.72 63.05h7.51v7.51h-7.51zM35.5 78.07h7.51v7.51h-7.51zM223.25 93.09h7.51v7.51h-7.51zM65.54 123.13h7.51v7.51h-7.51zM65.54 130.64h7.51v7.51h-7.51zM65.54 138.15h7.51v7.51h-7.51zM238.27 160.68h7.51v7.51h-7.51zM58.03 168.19h7.51v7.51h-7.51zM58.03 190.72h7.51v7.51h-7.51zM-1 213.25h6.46v7.51h-6.46zM12.97 220.76h7.51v7.51h-7.51zM65.54 220.76h7.51v7.51h-7.51zM35.5 228.27h7.51v7.51h-7.51zM80.56 228.27h7.51v7.51h-7.51zM43.01 235.78h7.51v7.51h-7.51zM88.07 243.29h7.51v7.51h-7.51zM88.07 250.8h7.51v7.51h-7.51z"/>
<path fill="#238b8c" d="M95.58 2.97h7.51v7.51h-7.51zM178.19 40.52h7.51v7.51h-7.51zM193.21 48.03h7.51v7.51h-7.51zM12.97 63.05h15.02v7.51h-15.02zM27.99 70.56h7.51v7.51h-7.51zM43.01 78.07h7.51v7.51h-7.51zM43.01 85.58h7.51v7.51h-7.51zM50.52 93.09h7.51v7.51h-7.51zM238.27 100.6h7.51v7.51h-7.51zM65.54 145.66h7.51v7.51h-7.51zM230.76 153.17h7.51v7.51h-7.51zM65.54 160.68h7.51v7.51h-7.51zM230.76 175.7h7.51v7.51h-7.51zM58.03 183.21h7.51v7.51h-7.51zM223.25 198.23h7.51v7.51h-7.51zM73.05 228.27h7.51v7.51h-7.51zM80.56 235.78h7.51v7.51h-7.51zM200.72 235.78h7.51v7.51h-7.51zM253.29 235.78h7.51v7.51h-7.51zM35.5 243.29h7.51v7.51h-7.51zM208.23 243.29h7.51v7.51h-7.51zM245.78 243.29h7.51v7.51h-7.51zM208.23 250.8h7.51v7.51h-7.51zM58.03 258.31h7.51v7.51h-7.51zM95.58 258.31h7.51v7.51h-7.51z"/>
<path fill="#21918c" d="M73.05 -1h7.51v3.97h-7.51zM103.09 -1h7.51v3.97h-7.51zM148.15 25.5h7.51v7.51h-7.51zM215.74 63.05h7.51v7.51h-7.51zM35.5 70.56h7.51v7.51h-7.51zM230.76 108.11h7.51v7.51h-7.51zM65.54 153.17h7.51v7.51h-7.51zM58.03 175.7h7.51v7.51h-7.51zM215.74 190.72h7.51v7.51h-7.51zM58.03 198.23h7.51v7.51h-7.51zM58.03 205.74h7.51v7.51h-7.51zM215.74 213.25h7.51v7.51h-7.51zM73.05 220.76h7.51v7.51h-7.51zM260.8 235.78h6.2v7.51h-6.2zM253.29 243.29h7.51v7.51h-7.51zM208.23 258.31h7.51v7.51h-7.51z"/>
<path fill="#21978a" d="M118.11 10.48h7.51v7.51h-7.51zM125.62 17.99h7.51v7.51h-7.51zM140.64 33.01h7.51v7.51h-7.51zM193.21 55.54h7.51v7.51h-7.51zM223.25 85.58h15.02v7.51h-15.02zM238.27 153.17h7.51v7.51h-7.51zM5.46 205.74h7.51v7.51h-7.51zM12.97 213.25h7.51v7.51h-7.51zM65.54 213.25h7.51v7.51h-7.51zM20.48 220.76h7.51v7.51h-7.51zM27.99 228.27h7.51v7.51h-7.51zM208.23 235.78h7.51v7.51h-7.51zM43.01 250.8h7.51v7.51h-7.51zM50.52 258.31h7.51v7.51h-7.51z"/>
<path fill="#229c88" d="M95.58 -1h7.51v3.97h-7.51zM103.09 2.97h7.51v7.51h-7.51zM155.66 40.52h7.51v7.51h-7.51zM170.68 40.52h7.51v7.51h-7.51zM208.23 63.05h7.51v7.51h-7.51zM238.27 108.11h7.51v7.51h-7.51zM238.27 115.62h7.51v7.51h-7.51zM238.27 123.13h7.51v7.51h-7.51zM238.27 130.64h7.51v7.51h-7.51zM223.25 175.7h7.51v7.51h-7.51zM223.25 190.72h7.51v7.51h-7.51zM5.46 213.25h7.51v7.51h-7.51zM208.23 213.25h7.51v7.51h-7.51zM200.72 243.29h7.51v7.51h-7.51zM50.52 250.8h7.51v7.51h-7.51z"/>
<path fill="#22a286" d="M80.56 -1h15.02v3.97h-15.02zM133.13 25.5h7.51v7.51h-7.51zM155.66 33.01h7.51v7.51h-7.51zM178.19 48.03h15.02v7.51h-15.02zM200.72 55.54h7.51v7.51h-7.51zM215.74 70.56h15.02v7.51h-15.02zM230.76 160.68h7.51v7.51h-7.51zM230.76 168.19h7.51v7.51h-7.51zM215.74 198.23h7.51v7.51h-7.51zM208.23 228.27h7.51v7.51h-7.51zM35.5 235.78h7.51v7.51h-7.51zM43.01 243.29h7.51v7.51h-7.51z"/>
<path fill="#22a884" d="M118.11 2.97h7.51v7.51h-7.51zM125.62 10.48h7.51v7.51h-7.51zM163.17 40.52h7.51v7.51h-7.51zM230.76 100.6h7.51v7.51h-7.51zM238.27 145.66h7.51v7.51h-7.51zM223.25 183.21h7.51v7.51h-7.51zM-1 205.74h6.46v7.51h-6.46zM215.74 205.74h7.51v7.51h-7.51zM208.23 220.76h7.51v7.51h-7.51zM200.72 250.8h7.51v7.51h-7.51z"/>
<path fill="#2bae7f" d="M110.6 2.97h7.51v7.51h-7.51zM133.13 17.99h7.51v7.51h-7.51zM223.25 78.07h7.51v7.51h-7.51zM230.76 93.09h7.51v7.51h-7.51zM238.27 138.15h7.51v7.51h-7.51zM200.72 258.31h7.51v7.51h-7.51z"/>
<path fill="#33b47a" d="M140.64 25.5h7.51v7.51h-7.51zM148.15 33.01h7.51v7.51h-7.51z"/>
</g>
</g>
<clipPath id="hc12"><rect x="1282.2" y="590.0" width="265.1" height="265.1"/></clipPath>
<g clip-path="url(#hc12)">
<rect x="1280.2" y="588.0" width="269.1" height="269.1" fill="#441a56"/>
<g transform="translate(1282.2,590.0)" shape-rendering="crispEdges">
<path fill="#462066" d="M163.17 48.03h7.51v7.51h-7.51zM50.52 205.74h7.51v7.51h-7.51zM58.03 250.8h7.51v7.51h-7.51zM193.21 250.8h7.51v7.51h-7.51z"/>
<path fill="#47246f" d="M80.56 2.97h7.51v7.51h-7.51zM12.97 55.54h7.51v7.51h-7.51zM208.23 70.56h7.51v7.51h-7.51zM58.03 93.09h7.51v7.51h-7.51zM238.27 93.09h7.51v7.51h-7.51zM230.76 138.15h7.51v7.51h-7.51zM245.78 145.66h7.51v7.51h-7.51zM58.03 153.17h7.51v7.51h-7.51zM238.27 168.19h7.51v7.51h-7.51zM50.52 175.7h7.51v7.51h-7.51zM230.76 183.21h7.51v7.51h-7.51zM12.97 205.74h7.51v7.51h-7.51zM223.25 205.74h7.51v7.51h-7.51zM73.05 213.25h7.51v7.51h-7.51zM80.56 220.76h7.51v7.51h-7.51zM215.74 220.76h7.51v7.51h-7.51zM260.8 228.27h6.2v7.51h-6.2zM73.05 235.78h7.51v7.51h-7.51zM245.78 235.78h7.51v7.51h-7.51zM223.25 250.8h7.51v7.51h-7.51zM238.27 258.31h7.51v7.51h-7.51z"/>
<path fill="#482878" d="M58.03 -1h7.51v3.97h-7.51zM110.6 -1h7.51v3.97h-7.51zM140.64 17.99h7.51v7.51h-7.51zM163.17 33.01h7.51v7.51h-7.51zM148.15 40.52h7.51v7.51h-7.51zM185.7 40.52h7.51v7.51h-7.51zM200.72 48.03h7.51v7.51h-7.51zM35.5 63.05h7.51v7.51h-7.51zM223.25 63.05h7.51v7.51h-7.51zM43.01 70.56h7.51v7.51h-7.51zM215.74 78.07h7.51v7.51h-7.51zM58.03 115.62h7.51v7.51h-7.51zM230.76 115.62h7.51v7.51h-7.51zM245.78 115.62h7.51v7.51h-7.51zM73.05 123.13h7.51v7.51h-7.51zM73.05 153.17h7.51v7.51h-7.51zM65.54 175.7h7.51v7.51h-7.51zM-1 198.23h6.46v7.51h-6.46zM50.52 198.23h7.51v7.51h-7.51zM200.72 220.76h7.51v7.51h-7.51zM27.99 235.78h7.51v7.51h-7.51zM50.52 243.29h7.51v7.51h-7.51zM193.21 258.31h7.51v7.51h-7.51zM215.74 258.31h7.51v7.51h-7.51z"/>
<path fill="#462f7c" d="M133.13 10.48h7.51v7.51h-7.51zM185.7 55.54h7.51v7.51h-7.51zM20.48 70.56h7.51v7.51h-7.51zM230.76 78.07h7.51v7.51h-7.51zM245.78 138.15h7.51v7.51h-7.51zM230.76 145.66h7.51v7.51h-7.51zM58.03 160.68h7.51v7.51h-7.51zM50.52 183.21h7.51v7.51h-7.51zM215.74 183.21h7.51v7.51h-7.51zM50.52 190.72h7.51v7.51h-7.51zM208.23 205.74h7.51v7.51h-7.51zM20.48 228.27h7.51v7.51h-7.51zM238.27 243.29h7.51v7.51h-7.51zM260.8 243.29h6.2v7.51h-6.2zM88.07 258.31h7.51v7.51h-7.51z"/>
<path fill="#443680" d="M88.07 2.97h7.51v7.51h-7.51zM223.25 93.09h7.51v7.51h-7.51zM238.27 100.6h7.51v7.51h-7.51zM73.05 145.66h7.51v7.51h-7.51zM223.25 168.19h7.51v7.51h-7.51zM65.54 205.74h7.51v7.51h-7.51zM-1 213.25h6.46v7.51h-6.46zM20.48 213.25h7.51v7.51h-7.51zM200.72 228.27h7.51v7.51h-7.51zM43.01 235.78h7.51v7.51h-7.51zM88.07 235.78h7.51v7.51h-7.51zM80.56 243.29h7.51v7.51h-7.51zM208.23 250.8h7.51v7.51h-7.51zM245.78 250.8h7.51v7.51h-7.51zM208.23 258.31h7.51v7.51h-7.51z"/>
<path fill="#433d83" d="M125.62 2.97h7.51v7.51h-7.51zM148.15 25.5h7.51v7.51h-7.51zM170.68 48.03h7.51v7.51h-7.51zM5.46 55.54h7.51v7.51h-7.51zM208.23 55.54h7.51v7.51h-7.51zM200.72 63.05h7.51v7.51h-7.51zM50.52 85.58h7.51v7.51h-7.51zM43.01 93.09h7.51v7.51h-7.51zM65.54 108.11h7.51v7.51h-7.51zM245.78 123.13h7.51v7.51h-7.51zM73.05 130.64h7.51v7.51h-7.51zM245.78 130.64h7.51v7.51h-7.51zM73.05 138.15h7.51v7.51h-7.51zM230.76 175.7h7.51v7.51h-7.51z"/>
<path fill="#414487" d="M27.99 220.76h7.51v7.51h-7.51z"/>
<path fill="#3e4b88" d="M238.27 160.68h7.51v7.51h-7.51zM223.25 198.23h7.51v7.51h-7.51zM58.03 213.25h7.51v7.51h-7.51zM95.58 250.8h7.51v7.51h-7.51z"/>
<path fill="#3b528a" d="M95.58 2.97h7.51v7.51h-7.51zM35.5 78.07h7.51v7.51h-7.51zM230.76 153.17h7.51v7.51h-7.51zM65.54 168.19h7.51v7.51h-7.51zM215.74 190.72h7.51v7.51h-7.51zM35.5 228.27h7.51v7.51h-7.51zM35.5 243.29h7.51v7.51h-7.51z"/>
<path fill="#38588c" d="M65.54 -1h7.51v3.97h-7.51zM118.11 10.48h7.51v7.51h-7.51zM125.62 17.99h7.51v7.51h-7.51zM140.64 33.01h7.51v7.51h-7.51zM178.19 40.52h7.51v7.51h-7.51zM193.21 48.03h7.51v7.51h-7.51zM-1 63.05h6.46v7.51h-6.46zM27.99 63.05h7.51v7.51h-7.51zM50.52 100.6h7.51v7.51h-7.51zM230.76 108.11h7.51v7.51h-7.51zM5.46 205.74h7.51v7.51h-7.51zM215.74 213.25h7.51v7.51h-7.51zM12.97 220.76h7.51v7.51h-7.51zM200.72 235.78h7.51v7.51h-7.51zM58.03 258.31h7.51v7.51h-7.51z"/>
<path fill="#355f8d" d="M230.76 85.58h7.51v7.51h-7.51zM208.23 243.29h7.51v7.51h-7.51z"/>
<path fill="#32658d" d="M230.76 250.8h7.51v7.51h-7.51z"/>
<path fill="#306c8e" d="M223.25 85.58h7.51v7.51h-7.51zM58.03 100.6h7.51v7.51h-7.51zM65.54 220.76h7.51v7.51h-7.51zM253.29 235.78h7.51v7.51h-7.51zM43.01 250.8h7.51v7.51h-7.51zM223.25 258.31h15.02v7.51h-15.02z"/>
<path fill="#2d728e" d="M-1 55.54h6.46v7.51h-6.46zM215.74 63.05h7.51v7.51h-7.51zM58.03 108.11h7.51v7.51h-7.51zM65.54 138.15h7.51v7.51h-7.51zM58.03 168.19h7.51v7.51h-7.51zM58.03 190.72h7.51v7.51h-7.51zM80.56 228.27h7.51v7.51h-7.51zM88.07 250.8h7.51v7.51h-7.51z"/>
<path fill="#2a788e" d="M103.09 -1h7.51v3.97h-7.51zM155.66 40.52h7.51v7.51h-7.51zM65.54 130.64h7.51v7.51h-7.51zM73.05 228.27h7.51v7.51h-7.51z"/>
<path fill="#287e8e" d="M103.09 2.97h7.51v7.51h-7.51zM193.21 55.54h7.51v7.51h-7.51zM27.99 70.56h7.51v7.51h-7.51zM215.74 70.56h7.51v7.51h-7.51zM65.54 115.62h7.51v7.51h-7.51zM65.54 145.66h7.51v7.51h-7.51zM208.23 235.78h7.51v7.51h-7.51z"/>
<path fill="#26848d" d="M95.58 -1h7.51v3.97h-7.51zM133.13 25.5h7.51v7.51h-7.51zM155.66 33.01h7.51v7.51h-7.51zM5.46 63.05h7.51v7.51h-7.51zM20.48 63.05h7.51v7.51h-7.51zM43.01 78.07h7.51v7.51h-7.51zM238.27 130.64h7.51v7.51h-7.51zM238.27 153.17h7.51v7.51h-7.51zM58.03 183.21h7.51v7.51h-7.51zM223.25 190.72h7.51v7.51h-7.51zM73.05 220.76h7.51v7.51h-7.51zM253.29 243.29h7.51v7.51h-7.51zM238.27 250.8h7.51v7.51h-7.51z"/>
<path fill="#238b8c" d="M65.54 160.68h7.51v7.51h-7.51z"/>
<path fill="#21918c" d="M170.68 40.52h7.51v7.51h-7.51zM238.27 108.11h7.51v7.51h-7.51zM65.54 123.13h7.51v7.51h-7.51zM238.27 123.13h7.51v7.51h-7.51zM223.25 175.7h7.51v7.51h-7.51zM5.46 213.25h15.02v7.51h-15.02zM208.23 213.25h7.51v7.51h-7.51zM200.72 243.29h7.51v7.51h-7.51zM245.78 243.29h7.51v7.51h-7.51z"/>
<path fill="#21978a" d="M43.01 85.58h7.51v7.51h-7.51zM58.03 198.23h7.51v7.51h-7.51zM58.03 205.74h7.51v7.51h-7.51zM80.56 235.78h7.51v7.51h-7.51zM88.07 243.29h7.51v7.51h-7.51z"/>
<path fill="#229c88" d="M12.97 63.05h7.51v7.51h-7.51zM35.5 70.56h7.51v7.51h-7.51zM50.52 93.09h7.51v7.51h-7.51zM230.76 160.68h7.51v7.51h-7.51zM58.03 175.7h7.51v7.51h-7.51zM20.48 220.76h7.51v7.51h-7.51zM27.99 228.27h7.51v7.51h-7.51zM50.52 250.8h7.51v7.51h-7.51z"/>
<path fill="#22a286" d="M73.05 -1h7.51v3.97h-7.51zM88.07 -1h7.51v3.97h-7.51zM223.25 70.56h7.51v7.51h-7.51zM238.27 115.62h7.51v7.51h-7.51zM65.54 153.17h7.51v7.51h-7.51zM65.54 213.25h7.51v7.51h-7.51zM208.23 228.27h7.51v7.51h-7.51zM260.8 235.78h6.2v7.51h-6.2zM200.72 250.8h7.51v7.51h-7.51zM50.52 258.31h7.51v7.51h-7.51zM95.58 258.31h7.51v7.51h-7.51zM200.72 258.31h7.51v7.51h-7.51z"/>
<path fill="#22a884" d="M118.11 2.97h7.51v7.51h-7.51zM178.19 48.03h15.02v7.51h-15.02zM208.23 63.05h7.51v7.51h-7.51zM238.27 145.66h7.51v7.51h-7.51zM215.74 198.23h7.51v7.51h-7.51z"/>
<path fill="#33b47a" d="M125.62 10.48h7.51v7.51h-7.51zM133.13 17.99h7.51v7.51h-7.51zM200.72 55.54h7.51v7.51h-7.51zM230.76 100.6h7.51v7.51h-7.51zM230.76 168.19h7.51v7.51h-7.51zM215.74 205.74h7.51v7.51h-7.51zM208.23 220.76h7.51v7.51h-7.51zM43.01 243.29h7.51v7.51h-7.51z"/>
<path fill="#3cb975" d="M35.5 235.78h7.51v7.51h-7.51z"/>
<path fill="#44bf70" d="M80.56 -1h7.51v3.97h-7.51zM110.6 2.97h7.51v7.51h-7.51zM140.64 25.5h7.51v7.51h-7.51zM163.17 40.52h7.51v7.51h-7.51zM230.76 93.09h7.51v7.51h-7.51zM238.27 138.15h7.51v7.51h-7.51z"/>
<path fill="#52c468" d="M148.15 33.01h7.51v7.51h-7.51zM223.25 78.07h7.51v7.51h-7.51zM223.25 183.21h7.51v7.51h-7.51z"/>
<path fill="#acdc31" d="M-1 205.74h6.46v7.51h-6.46z"/>
</g>
</g>
<text x="655.1" y="296.7" font-size="36.5" letter-spacing="1" style="stroke-width:0.3px" fill="#231f20">(c)</text>
<text x="866.8" y="302.8" text-anchor="middle" font-size="30.8" fill="#231f20">Raw image</text>
<text x="1140.7" y="302.8" text-anchor="middle" font-size="30.8" fill="#231f20">Reassigned</text>
<text x="1414.8" y="302.8" text-anchor="middle" font-size="30.8" fill="#231f20">Deconvolved</text>
<text transform="translate(718.1,448.7) rotate(-90)" text-anchor="middle" font-size="31" fill="#231f20">Downsampled</text>
<text transform="translate(718.1,710.5) rotate(-90)" text-anchor="middle" font-size="31" fill="#231f20">Reference</text>
<text fill="#fff" style="stroke:none"><tspan x="779.76" y="351.50" font-size="37.0" textLength="27.84" lengthAdjust="spacingAndGlyphs" style="font-family:'Liberation Serif',serif;font-style:normal;font-weight:normal">Δ</tspan><tspan x="809.42" y="351.50" font-size="34.5" textLength="19.49" lengthAdjust="spacingAndGlyphs" style="font-family:'Liberation Serif',serif;font-style:italic;font-weight:bold">x</tspan><tspan x="831.40" y="357.00" font-size="24.5" textLength="11.15" lengthAdjust="spacingAndGlyphs" style="font-family:'Liberation Serif',serif;font-style:italic;font-weight:normal">s</tspan><tspan x="851.02" y="356.80" font-size="43" textLength="30.99" lengthAdjust="spacingAndGlyphs" style="font-family:'DejaVu Sans Light',serif;font-style:normal;font-weight:200">=</tspan><tspan x="889.66" y="351.50" font-size="37.0" textLength="27.84" lengthAdjust="spacingAndGlyphs" style="font-family:'Liberation Serif',serif;font-style:normal;font-weight:normal">Δ</tspan><tspan x="919.32" y="351.50" font-size="34.5" textLength="19.49" lengthAdjust="spacingAndGlyphs" style="font-family:'Liberation Serif',serif;font-style:italic;font-weight:bold">x</tspan><tspan x="940.06" y="357.30" font-size="25.7" textLength="13.88" lengthAdjust="spacingAndGlyphs" style="font-family:'Liberation Serif',serif;font-style:italic;font-weight:normal">d</tspan></text>
<text fill="#fff" style="stroke:none"><tspan x="762.66" y="627.80" font-size="37.0" textLength="27.84" lengthAdjust="spacingAndGlyphs" style="font-family:'Liberation Serif',serif;font-style:normal;font-weight:normal">Δ</tspan><tspan x="792.32" y="627.80" font-size="34.5" textLength="19.49" lengthAdjust="spacingAndGlyphs" style="font-family:'Liberation Serif',serif;font-style:italic;font-weight:bold">x</tspan><tspan x="814.30" y="633.30" font-size="24.5" textLength="11.15" lengthAdjust="spacingAndGlyphs" style="font-family:'Liberation Serif',serif;font-style:italic;font-weight:normal">s</tspan><tspan x="833.92" y="633.10" font-size="43" textLength="30.99" lengthAdjust="spacingAndGlyphs" style="font-family:'DejaVu Sans Light',serif;font-style:normal;font-weight:200">=</tspan><tspan x="872.36" y="627.80" font-size="37.0" textLength="27.84" lengthAdjust="spacingAndGlyphs" style="font-family:'Liberation Serif',serif;font-style:normal;font-weight:normal">Δ</tspan><tspan x="902.02" y="627.80" font-size="34.5" textLength="19.49" lengthAdjust="spacingAndGlyphs" style="font-family:'Liberation Serif',serif;font-style:italic;font-weight:bold">x</tspan><tspan x="922.96" y="633.60" font-size="25.7" textLength="13.88" lengthAdjust="spacingAndGlyphs" style="font-family:'Liberation Serif',serif;font-style:italic;font-weight:normal">d</tspan><tspan x="938.80" y="634.80" font-size="50" textLength="13.90" lengthAdjust="spacingAndGlyphs" style="font-family:'Liberation Serif',serif;font-style:normal;font-weight:normal">/</tspan><tspan x="955.29" y="627.80" font-size="34" textLength="17.85" lengthAdjust="spacingAndGlyphs" style="font-family:'Liberation Serif',serif;font-style:normal;font-weight:normal">2</tspan></text>
<clipPath id="cd"><rect x="117.0" y="899.8" width="635.6" height="307.10000000000014"/></clipPath>
<path d="M145.60,-480.00 L203.37,962.40 L261.14,1166.90 L318.91,1171.20 L376.68,1181.20 L434.45,1186.10 L492.22,1185.20 L549.99,1185.80 L607.76,1161.30 L665.53,1120.10 L723.30,1074.90" fill="none" stroke="#62a0ca" stroke-width="6.3" stroke-linejoin="miter" clip-path="url(#cd)"/>
<rect x="117.0" y="899.5999999999999" width="635.6" height="307.3000000000001" fill="none" stroke="#231f20" stroke-width="3.3"/>
<line x1="145.60" y1="1206.9" x2="145.60" y2="1214.7" stroke="#231f20" stroke-width="3.0"/>
<text x="146.40" y="1237.9" text-anchor="middle" font-size="25" fill="#231f20">0.5</text>
<line x1="203.37" y1="1206.9" x2="203.37" y2="1214.7" stroke="#231f20" stroke-width="3.0"/>
<text x="204.17" y="1237.9" text-anchor="middle" font-size="25" fill="#231f20">0.6</text>
<line x1="261.14" y1="1206.9" x2="261.14" y2="1214.7" stroke="#231f20" stroke-width="3.0"/>
<text x="261.94" y="1237.9" text-anchor="middle" font-size="25" fill="#231f20">0.7</text>
<line x1="318.91" y1="1206.9" x2="318.91" y2="1214.7" stroke="#231f20" stroke-width="3.0"/>
<text x="319.71" y="1237.9" text-anchor="middle" font-size="25" fill="#231f20">0.8</text>
<line x1="376.68" y1="1206.9" x2="376.68" y2="1214.7" stroke="#231f20" stroke-width="3.0"/>
<text x="377.48" y="1237.9" text-anchor="middle" font-size="25" fill="#231f20">0.9</text>
<line x1="434.45" y1="1206.9" x2="434.45" y2="1214.7" stroke="#231f20" stroke-width="3.0"/>
<text x="435.25" y="1237.9" text-anchor="middle" font-size="25" fill="#231f20">1.0</text>
<line x1="492.22" y1="1206.9" x2="492.22" y2="1214.7" stroke="#231f20" stroke-width="3.0"/>
<text x="493.02" y="1237.9" text-anchor="middle" font-size="25" fill="#231f20">1.1</text>
<line x1="549.99" y1="1206.9" x2="549.99" y2="1214.7" stroke="#231f20" stroke-width="3.0"/>
<text x="550.79" y="1237.9" text-anchor="middle" font-size="25" fill="#231f20">1.2</text>
<line x1="607.76" y1="1206.9" x2="607.76" y2="1214.7" stroke="#231f20" stroke-width="3.0"/>
<text x="608.56" y="1237.9" text-anchor="middle" font-size="25" fill="#231f20">1.3</text>
<line x1="665.53" y1="1206.9" x2="665.53" y2="1214.7" stroke="#231f20" stroke-width="3.0"/>
<text x="666.33" y="1237.9" text-anchor="middle" font-size="25" fill="#231f20">1.4</text>
<line x1="723.30" y1="1206.9" x2="723.30" y2="1214.7" stroke="#231f20" stroke-width="3.0"/>
<text x="724.10" y="1237.9" text-anchor="middle" font-size="25" fill="#231f20">1.5</text>
<line x1="109.2" y1="899.8" x2="117.0" y2="899.8" stroke="#231f20" stroke-width="3.0"/>
<text x="103.5" y="907.20" text-anchor="end" font-size="24.8" fill="#231f20">0.30</text>
<line x1="109.2" y1="972.9" x2="117.0" y2="972.9" stroke="#231f20" stroke-width="3.0"/>
<text x="103.5" y="980.30" text-anchor="end" font-size="24.8" fill="#231f20">0.25</text>
<line x1="109.2" y1="1046.0" x2="117.0" y2="1046.0" stroke="#231f20" stroke-width="3.0"/>
<text x="103.5" y="1053.40" text-anchor="end" font-size="24.8" fill="#231f20">0.20</text>
<line x1="109.2" y1="1119.1" x2="117.0" y2="1119.1" stroke="#231f20" stroke-width="3.0"/>
<text x="103.5" y="1126.50" text-anchor="end" font-size="24.8" fill="#231f20">0.15</text>
<line x1="109.2" y1="1192.2" x2="117.0" y2="1192.2" stroke="#231f20" stroke-width="3.0"/>
<text x="103.5" y="1199.60" text-anchor="end" font-size="24.8" fill="#231f20">0.10</text>
<path d="M203.37,938.9 V985.7" fill="none" stroke="#231f20" stroke-width="3.0"/>
<path d="M196.97,938.9 H209.77 M196.97,985.7 H209.77" fill="none" stroke="#231f20" stroke-width="2.3"/>
<circle cx="203.37" cy="962.8" r="3.3" fill="#1f77b4" stroke="#231f20" stroke-width="2.2"/>
<path d="M261.14,1155.8 V1177.8" fill="none" stroke="#231f20" stroke-width="3.0"/>
<path d="M254.74,1155.8 H267.54 M254.74,1177.8 H267.54" fill="none" stroke="#231f20" stroke-width="2.3"/>
<circle cx="261.14" cy="1167.3000000000002" r="3.3" fill="#1f77b4" stroke="#231f20" stroke-width="2.2"/>
<path d="M318.91,1166.9 V1175.6" fill="none" stroke="#231f20" stroke-width="3.0"/>
<path d="M312.51,1166.9 H325.31 M312.51,1175.6 H325.31" fill="none" stroke="#231f20" stroke-width="2.3"/>
<circle cx="318.91" cy="1171.6000000000001" r="3.3" fill="#1f77b4" stroke="#231f20" stroke-width="2.2"/>
<path d="M376.68,1175.3 V1187.0" fill="none" stroke="#231f20" stroke-width="3.0"/>
<path d="M370.28,1175.3 H383.08 M370.28,1187.0 H383.08" fill="none" stroke="#231f20" stroke-width="2.3"/>
<circle cx="376.68" cy="1181.6000000000001" r="3.3" fill="#1f77b4" stroke="#231f20" stroke-width="2.2"/>
<path d="M434.45,1181.5 V1190.8" fill="none" stroke="#231f20" stroke-width="3.0"/>
<path d="M428.05,1181.5 H440.85 M428.05,1190.8 H440.85" fill="none" stroke="#231f20" stroke-width="2.3"/>
<circle cx="434.45" cy="1186.5" r="3.3" fill="#1f77b4" stroke="#231f20" stroke-width="2.2"/>
<path d="M492.22,1174.7 V1195.4" fill="none" stroke="#231f20" stroke-width="3.0"/>
<path d="M485.82,1174.7 H498.62 M485.82,1195.4 H498.62" fill="none" stroke="#231f20" stroke-width="2.3"/>
<circle cx="492.22" cy="1185.6000000000001" r="3.3" fill="#1f77b4" stroke="#231f20" stroke-width="2.2"/>
<path d="M549.99,1176.5 V1195.4" fill="none" stroke="#231f20" stroke-width="3.0"/>
<path d="M543.59,1176.5 H556.39 M543.59,1195.4 H556.39" fill="none" stroke="#231f20" stroke-width="2.3"/>
<circle cx="549.99" cy="1186.2" r="3.3" fill="#1f77b4" stroke="#231f20" stroke-width="2.2"/>
<path d="M607.76,1155.8 V1166.6" fill="none" stroke="#231f20" stroke-width="3.0"/>
<path d="M601.36,1155.8 H614.16 M601.36,1166.6 H614.16" fill="none" stroke="#231f20" stroke-width="2.3"/>
<circle cx="607.76" cy="1161.7" r="3.3" fill="#1f77b4" stroke="#231f20" stroke-width="2.2"/>
<path d="M665.53,1107.7 V1133.8" fill="none" stroke="#231f20" stroke-width="3.0"/>
<path d="M659.13,1107.7 H671.93 M659.13,1133.8 H671.93" fill="none" stroke="#231f20" stroke-width="2.3"/>
<circle cx="665.53" cy="1120.5" r="3.3" fill="#1f77b4" stroke="#231f20" stroke-width="2.2"/>
<path d="M723.30,1059.1 V1090.7" fill="none" stroke="#231f20" stroke-width="3.0"/>
<path d="M716.90,1059.1 H729.70 M716.90,1090.7 H729.70" fill="none" stroke="#231f20" stroke-width="2.3"/>
<circle cx="723.30" cy="1075.3000000000002" r="3.3" fill="#1f77b4" stroke="#231f20" stroke-width="2.2"/>
<text x="743.5" y="935.2" text-anchor="end" font-size="31.1" fill="#231f20">APR</text>
<text x="-2.6" y="918.5" font-size="36.5" letter-spacing="1" style="stroke-width:0.3px" fill="#231f20">(d)</text>
<text transform="translate(41.8,1053) rotate(-90)" text-anchor="middle" font-size="24.7" fill="#231f20">Upsampling error</text>
<text x="434.8" y="1266.5" text-anchor="middle" font-size="25" fill="#231f20">Δx<tspan font-size="15" dy="8">s</tspan><tspan dy="-8">/Δx</tspan><tspan font-size="15" dy="8">d</tspan></text>
<clipPath id="ce"><rect x="907.8" y="899.8" width="635.1000000000001" height="307.10000000000014"/></clipPath>
<path d="M936.50,1183.00 L994.29,1167.20 L1052.08,1151.10 L1109.87,1135.00 L1167.66,1118.00 L1225.45,1108.00 L1283.24,1094.10 L1341.03,1057.20 L1398.82,1051.60 L1456.61,1016.00 L1514.40,928.60" fill="none" stroke="#f9a55b" stroke-width="6.3" stroke-linejoin="miter" clip-path="url(#ce)"/>
<rect x="907.8" y="899.5999999999999" width="635.1000000000001" height="307.3000000000001" fill="none" stroke="#231f20" stroke-width="3.3"/>
<line x1="936.50" y1="1206.9" x2="936.50" y2="1214.7" stroke="#231f20" stroke-width="3.0"/>
<text x="937.30" y="1237.9" text-anchor="middle" font-size="25" fill="#231f20">0.5</text>
<line x1="994.29" y1="1206.9" x2="994.29" y2="1214.7" stroke="#231f20" stroke-width="3.0"/>
<text x="995.09" y="1237.9" text-anchor="middle" font-size="25" fill="#231f20">0.6</text>
<line x1="1052.08" y1="1206.9" x2="1052.08" y2="1214.7" stroke="#231f20" stroke-width="3.0"/>
<text x="1052.88" y="1237.9" text-anchor="middle" font-size="25" fill="#231f20">0.7</text>
<line x1="1109.87" y1="1206.9" x2="1109.87" y2="1214.7" stroke="#231f20" stroke-width="3.0"/>
<text x="1110.67" y="1237.9" text-anchor="middle" font-size="25" fill="#231f20">0.8</text>
<line x1="1167.66" y1="1206.9" x2="1167.66" y2="1214.7" stroke="#231f20" stroke-width="3.0"/>
<text x="1168.46" y="1237.9" text-anchor="middle" font-size="25" fill="#231f20">0.9</text>
<line x1="1225.45" y1="1206.9" x2="1225.45" y2="1214.7" stroke="#231f20" stroke-width="3.0"/>
<text x="1226.25" y="1237.9" text-anchor="middle" font-size="25" fill="#231f20">1.0</text>
<line x1="1283.24" y1="1206.9" x2="1283.24" y2="1214.7" stroke="#231f20" stroke-width="3.0"/>
<text x="1284.04" y="1237.9" text-anchor="middle" font-size="25" fill="#231f20">1.1</text>
<line x1="1341.03" y1="1206.9" x2="1341.03" y2="1214.7" stroke="#231f20" stroke-width="3.0"/>
<text x="1341.83" y="1237.9" text-anchor="middle" font-size="25" fill="#231f20">1.2</text>
<line x1="1398.82" y1="1206.9" x2="1398.82" y2="1214.7" stroke="#231f20" stroke-width="3.0"/>
<text x="1399.62" y="1237.9" text-anchor="middle" font-size="25" fill="#231f20">1.3</text>
<line x1="1456.61" y1="1206.9" x2="1456.61" y2="1214.7" stroke="#231f20" stroke-width="3.0"/>
<text x="1457.41" y="1237.9" text-anchor="middle" font-size="25" fill="#231f20">1.4</text>
<line x1="1514.40" y1="1206.9" x2="1514.40" y2="1214.7" stroke="#231f20" stroke-width="3.0"/>
<text x="1515.20" y="1237.9" text-anchor="middle" font-size="25" fill="#231f20">1.5</text>
<line x1="900.0" y1="975.9" x2="907.8" y2="975.9" stroke="#231f20" stroke-width="3.0"/>
<text x="894.3" y="983.30" text-anchor="end" font-size="24.8" fill="#231f20">0.10</text>
<line x1="900.0" y1="1052.9" x2="907.8" y2="1052.9" stroke="#231f20" stroke-width="3.0"/>
<text x="894.3" y="1060.30" text-anchor="end" font-size="24.8" fill="#231f20">0.08</text>
<line x1="900.0" y1="1129.9" x2="907.8" y2="1129.9" stroke="#231f20" stroke-width="3.0"/>
<text x="894.3" y="1137.30" text-anchor="end" font-size="24.8" fill="#231f20">0.06</text>
<line x1="900.0" y1="1206.9" x2="907.8" y2="1206.9" stroke="#231f20" stroke-width="3.0"/>
<text x="894.3" y="1214.30" text-anchor="end" font-size="24.8" fill="#231f20">0.04</text>
<path d="M936.50,1173.4 V1193.2" fill="none" stroke="#231f20" stroke-width="3.0"/>
<path d="M930.10,1173.4 H942.90 M930.10,1193.2 H942.90" fill="none" stroke="#231f20" stroke-width="2.3"/>
<circle cx="936.50" cy="1183.4" r="3.3" fill="#ff7f0e" stroke="#231f20" stroke-width="2.2"/>
<path d="M994.29,1157.9 V1176.5" fill="none" stroke="#231f20" stroke-width="3.0"/>
<path d="M987.89,1157.9 H1000.69 M987.89,1176.5 H1000.69" fill="none" stroke="#231f20" stroke-width="2.3"/>
<circle cx="994.29" cy="1167.6000000000001" r="3.3" fill="#ff7f0e" stroke="#231f20" stroke-width="2.2"/>
<path d="M1052.08,1142.7 V1158.9" fill="none" stroke="#231f20" stroke-width="3.0"/>
<path d="M1045.68,1142.7 H1058.48 M1045.68,1158.9 H1058.48" fill="none" stroke="#231f20" stroke-width="2.3"/>
<circle cx="1052.08" cy="1151.5" r="3.3" fill="#ff7f0e" stroke="#231f20" stroke-width="2.2"/>
<path d="M1109.87,1126.3 V1143.7" fill="none" stroke="#231f20" stroke-width="3.0"/>
<path d="M1103.47,1126.3 H1116.27 M1103.47,1143.7 H1116.27" fill="none" stroke="#231f20" stroke-width="2.3"/>
<circle cx="1109.87" cy="1135.4" r="3.3" fill="#ff7f0e" stroke="#231f20" stroke-width="2.2"/>
<path d="M1167.66,1106.2 V1129.7" fill="none" stroke="#231f20" stroke-width="3.0"/>
<path d="M1161.26,1106.2 H1174.06 M1161.26,1129.7 H1174.06" fill="none" stroke="#231f20" stroke-width="2.3"/>
<circle cx="1167.66" cy="1118.4" r="3.3" fill="#ff7f0e" stroke="#231f20" stroke-width="2.2"/>
<path d="M1225.45,1095.3 V1120.1" fill="none" stroke="#231f20" stroke-width="3.0"/>
<path d="M1219.05,1095.3 H1231.85 M1219.05,1120.1 H1231.85" fill="none" stroke="#231f20" stroke-width="2.3"/>
<circle cx="1225.45" cy="1108.4" r="3.3" fill="#ff7f0e" stroke="#231f20" stroke-width="2.2"/>
<path d="M1283.24,1084.8 V1103.7" fill="none" stroke="#231f20" stroke-width="3.0"/>
<path d="M1276.84,1084.8 H1289.64 M1276.84,1103.7 H1289.64" fill="none" stroke="#231f20" stroke-width="2.3"/>
<circle cx="1283.24" cy="1094.5" r="3.3" fill="#ff7f0e" stroke="#231f20" stroke-width="2.2"/>
<path d="M1341.03,1048.2 V1066.2" fill="none" stroke="#231f20" stroke-width="3.0"/>
<path d="M1334.63,1048.2 H1347.43 M1334.63,1066.2 H1347.43" fill="none" stroke="#231f20" stroke-width="2.3"/>
<circle cx="1341.03" cy="1057.6000000000001" r="3.3" fill="#ff7f0e" stroke="#231f20" stroke-width="2.2"/>
<path d="M1398.82,1043.9 V1059.1" fill="none" stroke="#231f20" stroke-width="3.0"/>
<path d="M1392.42,1043.9 H1405.22 M1392.42,1059.1 H1405.22" fill="none" stroke="#231f20" stroke-width="2.3"/>
<circle cx="1398.82" cy="1052.0" r="3.3" fill="#ff7f0e" stroke="#231f20" stroke-width="2.2"/>
<path d="M1456.61,1003.6 V1028.4" fill="none" stroke="#231f20" stroke-width="3.0"/>
<path d="M1450.21,1003.6 H1463.01 M1450.21,1028.4 H1463.01" fill="none" stroke="#231f20" stroke-width="2.3"/>
<circle cx="1456.61" cy="1016.4" r="3.3" fill="#ff7f0e" stroke="#231f20" stroke-width="2.2"/>
<path d="M1514.40,913.2 V943.8" fill="none" stroke="#231f20" stroke-width="3.0"/>
<path d="M1508.00,913.2 H1520.80 M1508.00,943.8 H1520.80" fill="none" stroke="#231f20" stroke-width="2.3"/>
<circle cx="1514.40" cy="929.0" r="3.3" fill="#ff7f0e" stroke="#231f20" stroke-width="2.2"/>
<text x="916.5" y="935.2" text-anchor="start" font-size="31.1" fill="#231f20">Deconvolution (5 iterations)</text>
<text x="788.6" y="918.5" font-size="36.5" letter-spacing="1" style="stroke-width:0.3px" fill="#231f20">(e)</text>
<text transform="translate(833.3,1053) rotate(-90)" text-anchor="middle" font-size="24.7" fill="#231f20">Upsampling error</text>
<text x="1225.3" y="1266.5" text-anchor="middle" font-size="25" fill="#231f20">Δx<tspan font-size="15" dy="8">s</tspan><tspan dy="-8">/Δx</tspan><tspan font-size="15" dy="8">d</tspan></text>
</svg>
</body></html>
